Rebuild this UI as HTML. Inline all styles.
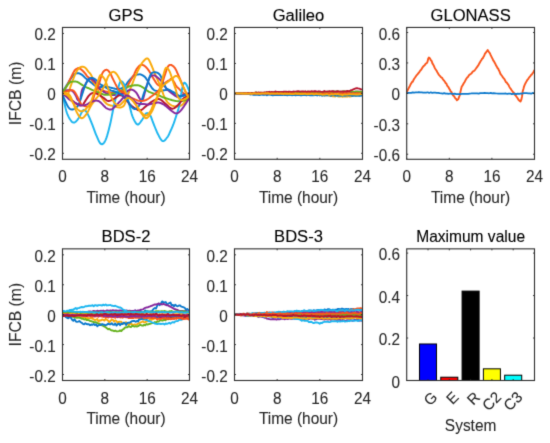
<!DOCTYPE html>
<html><head><meta charset="utf-8"><style>
html,body{margin:0;padding:0;background:#fff;}
svg{display:block;}
text{font-family:"Liberation Sans",sans-serif;fill:#262626;stroke:#262626;stroke-width:0.08px;}
text.t{fill:#000;stroke:#000;stroke-width:0.12px;}
svg{}
#w{width:550px;height:443px;}
</style></head><body><div id="w">
<svg width="550" height="443" viewBox="0 0 550 443">
<defs><clipPath id="cgps"><rect x="62.5" y="27.45" width="127.0" height="131.85000000000002"/></clipPath><clipPath id="cgal"><rect x="234.5" y="27.45" width="128.0" height="131.85000000000002"/></clipPath><clipPath id="cglo"><rect x="406.7" y="27.45" width="127.80000000000001" height="131.85000000000002"/></clipPath><clipPath id="cc2"><rect x="62.5" y="248.85" width="127.0" height="131.65"/></clipPath><clipPath id="cc3"><rect x="234.5" y="248.85" width="128.0" height="131.65"/></clipPath><clipPath id="cbar"><rect x="406.7" y="248.85" width="127.80000000000001" height="131.65"/></clipPath><filter id="bl" x="0" y="0" width="550" height="443" filterUnits="userSpaceOnUse" color-interpolation-filters="sRGB"><feConvolveMatrix order="3" kernelMatrix="0.0144 0.0912 0.0144 0.0912 0.5776 0.0912 0.0144 0.0912 0.0144" edgeMode="duplicate" preserveAlpha="true"/></filter></defs>
<g filter="url(#bl)">
<rect width="550" height="443" fill="#fff"/>
<g clip-path="url(#cgps)">
<path d="M62.50,93.40 L62.57,93.17 L62.64,92.89 L62.72,92.55 L62.82,92.16 L62.96,91.73 L63.12,91.26 L63.34,90.75 L63.60,90.20 L63.93,89.60 L64.32,88.93 L64.77,88.22 L65.24,87.46 L65.74,86.69 L66.24,85.91 L66.73,85.14 L67.20,84.40 L67.65,83.66 L68.10,82.91 L68.55,82.16 L68.99,81.41 L69.44,80.67 L69.89,79.94 L70.35,79.25 L70.80,78.60 L71.26,77.97 L71.72,77.34 L72.18,76.74 L72.65,76.16 L73.12,75.61 L73.58,75.11 L74.04,74.67 L74.50,74.30 L74.95,73.99 L75.41,73.74 L75.86,73.54 L76.31,73.39 L76.75,73.29 L77.20,73.22 L77.65,73.20 L78.10,73.20 L78.55,73.24 L79.00,73.33 L79.45,73.46 L79.90,73.62 L80.35,73.83 L80.80,74.06 L81.25,74.32 L81.70,74.60 L82.15,74.92 L82.60,75.30 L83.05,75.72 L83.50,76.16 L83.95,76.61 L84.40,77.06 L84.85,77.49 L85.30,77.90 L85.75,78.29 L86.22,78.67 L86.68,79.05 L87.14,79.42 L87.60,79.78 L88.05,80.13 L88.48,80.47 L88.90,80.80 L89.28,81.10 L89.62,81.36 L89.95,81.61 L90.26,81.84 L90.59,82.09 L90.94,82.35 L91.34,82.65 L91.80,83.00 L92.33,83.42 L92.90,83.92 L93.53,84.47 L94.17,85.02 L94.84,85.57 L95.51,86.07 L96.17,86.49 L96.80,86.80 L97.42,87.00 L98.05,87.12 L98.67,87.17 L99.29,87.17 L99.91,87.13 L100.52,87.08 L101.12,87.03 L101.70,87.00 L102.25,86.96 L102.78,86.88 L103.28,86.78 L103.78,86.67 L104.29,86.57 L104.82,86.50 L105.39,86.47 L106.00,86.50 L106.67,86.60 L107.38,86.75 L108.13,86.94 L108.89,87.16 L109.68,87.39 L110.46,87.61 L111.24,87.82 L112.00,88.00 L112.75,88.17 L113.50,88.36 L114.25,88.55 L115.01,88.73 L115.76,88.88 L116.51,88.99 L117.25,89.03 L118.00,89.00 L118.75,88.90 L119.51,88.76 L120.26,88.57 L121.02,88.33 L121.77,88.04 L122.50,87.69 L123.21,87.27 L123.90,86.80 L124.56,86.23 L125.19,85.56 L125.81,84.82 L126.41,84.03 L127.00,83.21 L127.59,82.40 L128.19,81.62 L128.80,80.90 L129.42,80.21 L130.04,79.50 L130.67,78.81 L131.29,78.12 L131.92,77.48 L132.55,76.88 L133.17,76.35 L133.80,75.90 L134.44,75.53 L135.10,75.23 L135.77,74.99 L136.43,74.81 L137.08,74.66 L137.70,74.55 L138.28,74.47 L138.80,74.40 L139.26,74.35 L139.65,74.33 L139.99,74.33 L140.31,74.37 L140.62,74.44 L140.95,74.55 L141.30,74.70 L141.70,74.90 L142.15,75.13 L142.62,75.38 L143.11,75.66 L143.61,75.99 L144.13,76.36 L144.65,76.80 L145.18,77.31 L145.70,77.90 L146.23,78.61 L146.76,79.44 L147.30,80.35 L147.85,81.33 L148.40,82.31 L148.94,83.28 L149.47,84.18 L150.00,85.00 L150.50,85.75 L150.97,86.49 L151.43,87.20 L151.89,87.88 L152.37,88.51 L152.87,89.08 L153.41,89.58 L154.00,90.00 L154.64,90.33 L155.32,90.58 L156.02,90.76 L156.76,90.89 L157.53,90.96 L158.33,91.00 L159.15,91.01 L160.00,91.00 L160.91,90.93 L161.91,90.77 L162.95,90.56 L164.01,90.32 L165.06,90.10 L166.06,89.91 L166.98,89.80 L167.80,89.80 L168.50,89.90 L169.11,90.07 L169.65,90.30 L170.14,90.57 L170.60,90.89 L171.05,91.24 L171.51,91.62 L172.00,92.00 L172.50,92.44 L172.97,92.97 L173.43,93.54 L173.89,94.14 L174.36,94.71 L174.86,95.24 L175.41,95.68 L176.00,96.00 L176.64,96.21 L177.32,96.33 L178.04,96.38 L178.78,96.38 L179.55,96.32 L180.35,96.23 L181.16,96.12 L182.00,96.00 L182.92,95.83 L183.95,95.59 L185.03,95.31 L186.12,95.00 L187.17,94.69 L188.12,94.41 L188.91,94.17 L189.50,94.00" stroke="#0A78CC" stroke-width="1.95" fill="none" stroke-linejoin="round" stroke-linecap="round"/>
<path d="M62.50,93.40 L62.87,92.75 L63.37,91.88 L63.97,90.85 L64.62,89.70 L65.31,88.50 L65.99,87.29 L66.63,86.14 L67.20,85.10 L67.70,84.15 L68.17,83.22 L68.63,82.32 L69.06,81.43 L69.49,80.55 L69.92,79.67 L70.35,78.79 L70.80,77.90 L71.26,76.97 L71.74,75.98 L72.22,74.98 L72.70,73.99 L73.17,73.03 L73.64,72.15 L74.08,71.36 L74.50,70.70 L74.90,70.17 L75.29,69.76 L75.67,69.43 L76.04,69.17 L76.38,68.97 L76.71,68.81 L77.02,68.65 L77.30,68.50 L77.54,68.35 L77.73,68.22 L77.90,68.12 L78.04,68.05 L78.19,68.01 L78.36,68.00 L78.55,68.03 L78.80,68.10 L79.10,68.21 L79.43,68.37 L79.78,68.57 L80.16,68.79 L80.55,69.05 L80.94,69.32 L81.33,69.61 L81.70,69.90 L82.06,70.20 L82.42,70.53 L82.79,70.87 L83.15,71.23 L83.51,71.61 L83.87,71.99 L84.24,72.39 L84.60,72.80 L84.96,73.23 L85.31,73.69 L85.66,74.17 L86.01,74.66 L86.36,75.14 L86.73,75.62 L87.10,76.08 L87.50,76.50 L87.92,76.88 L88.35,77.22 L88.79,77.53 L89.25,77.84 L89.71,78.15 L90.18,78.49 L90.64,78.87 L91.10,79.30 L91.56,79.80 L92.04,80.36 L92.52,80.96 L92.99,81.59 L93.47,82.22 L93.93,82.84 L94.38,83.44 L94.80,84.00 L95.19,84.53 L95.55,85.05 L95.88,85.56 L96.21,86.06 L96.55,86.53 L96.90,86.98 L97.28,87.41 L97.70,87.80 L98.16,88.15 L98.64,88.47 L99.14,88.75 L99.66,89.01 L100.20,89.26 L100.77,89.50 L101.37,89.75 L102.00,90.00 L102.66,90.27 L103.36,90.54 L104.08,90.81 L104.83,91.08 L105.60,91.33 L106.39,91.58 L107.19,91.80 L108.00,92.00 L108.83,92.18 L109.70,92.34 L110.60,92.49 L111.50,92.62 L112.40,92.74 L113.30,92.84 L114.17,92.93 L115.00,93.00 L115.81,93.08 L116.60,93.17 L117.38,93.26 L118.14,93.33 L118.88,93.35 L119.61,93.32 L120.31,93.21 L121.00,93.00 L121.66,92.70 L122.30,92.31 L122.92,91.86 L123.53,91.34 L124.11,90.76 L124.68,90.15 L125.25,89.49 L125.80,88.80 L126.34,88.06 L126.86,87.24 L127.36,86.38 L127.85,85.47 L128.34,84.54 L128.82,83.61 L129.31,82.69 L129.80,81.80 L130.31,80.93 L130.82,80.05 L131.34,79.17 L131.86,78.29 L132.37,77.42 L132.87,76.56 L133.35,75.72 L133.80,74.90 L134.22,74.09 L134.60,73.29 L134.96,72.49 L135.31,71.71 L135.65,70.96 L136.01,70.23 L136.39,69.54 L136.80,68.90 L137.24,68.28 L137.71,67.66 L138.19,67.07 L138.69,66.51 L139.19,66.01 L139.70,65.58 L140.20,65.24 L140.70,65.00 L141.19,64.86 L141.69,64.81 L142.18,64.84 L142.67,64.95 L143.17,65.12 L143.68,65.36 L144.18,65.65 L144.70,66.00 L145.23,66.41 L145.76,66.90 L146.30,67.46 L146.85,68.08 L147.40,68.74 L147.94,69.44 L148.47,70.17 L149.00,70.90 L149.52,71.67 L150.02,72.51 L150.53,73.38 L151.02,74.28 L151.52,75.19 L152.01,76.09 L152.51,76.97 L153.00,77.80 L153.50,78.62 L154.00,79.45 L154.51,80.28 L155.01,81.09 L155.51,81.87 L155.99,82.59 L156.46,83.24 L156.90,83.80 L157.32,84.27 L157.73,84.65 L158.13,84.96 L158.51,85.22 L158.88,85.44 L159.23,85.64 L159.57,85.82 L159.90,86.00 L160.20,86.20 L160.46,86.42 L160.69,86.62 L160.92,86.80 L161.15,86.93 L161.40,86.98 L161.68,86.95 L162.00,86.80 L162.37,86.50 L162.77,86.06 L163.20,85.51 L163.64,84.90 L164.10,84.26 L164.57,83.64 L165.04,83.07 L165.50,82.60 L165.97,82.21 L166.47,81.85 L166.97,81.52 L167.48,81.22 L167.98,80.95 L168.46,80.69 L168.90,80.44 L169.30,80.20 L169.65,79.95 L169.96,79.67 L170.23,79.40 L170.48,79.15 L170.72,78.94 L170.97,78.80 L171.22,78.75 L171.50,78.80 L171.80,78.97 L172.11,79.25 L172.42,79.62 L172.74,80.05 L173.06,80.52 L173.38,81.02 L173.69,81.52 L174.00,82.00 L174.30,82.49 L174.60,83.01 L174.89,83.57 L175.19,84.13 L175.48,84.69 L175.78,85.23 L176.09,85.74 L176.40,86.20 L176.72,86.60 L177.03,86.95 L177.34,87.27 L177.66,87.58 L177.99,87.87 L178.34,88.18 L178.71,88.52 L179.10,88.90 L179.53,89.34 L180.00,89.82 L180.49,90.34 L181.00,90.86 L181.51,91.38 L182.00,91.87 L182.47,92.32 L182.90,92.70 L183.28,93.02 L183.62,93.30 L183.94,93.54 L184.24,93.75 L184.55,93.94 L184.87,94.10 L185.21,94.25 L185.60,94.40 L186.06,94.53 L186.58,94.64 L187.15,94.73 L187.72,94.81 L188.27,94.87 L188.77,94.92 L189.19,94.96 L189.50,95.00" stroke="#FA561C" stroke-width="1.95" fill="none" stroke-linejoin="round" stroke-linecap="round"/>
<path d="M62.50,93.40 L62.78,93.54 L63.16,93.75 L63.62,94.01 L64.12,94.28 L64.64,94.53 L65.15,94.76 L65.61,94.92 L66.00,95.00 L66.32,95.03 L66.59,95.06 L66.82,95.05 L67.04,95.00 L67.26,94.87 L67.48,94.64 L67.72,94.29 L68.00,93.80 L68.31,93.12 L68.64,92.28 L68.99,91.29 L69.34,90.22 L69.71,89.09 L70.07,87.95 L70.44,86.84 L70.80,85.80 L71.16,84.80 L71.52,83.79 L71.88,82.77 L72.24,81.76 L72.61,80.76 L72.97,79.77 L73.34,78.82 L73.70,77.90 L74.06,77.00 L74.42,76.11 L74.79,75.23 L75.15,74.38 L75.51,73.56 L75.87,72.79 L76.24,72.06 L76.60,71.40 L76.96,70.79 L77.32,70.24 L77.69,69.73 L78.05,69.26 L78.41,68.84 L78.77,68.46 L79.14,68.11 L79.50,67.80 L79.86,67.53 L80.22,67.30 L80.59,67.11 L80.95,66.96 L81.31,66.84 L81.68,66.76 L82.04,66.72 L82.40,66.70 L82.76,66.72 L83.12,66.76 L83.49,66.84 L83.85,66.96 L84.21,67.11 L84.58,67.30 L84.94,67.53 L85.30,67.80 L85.66,68.13 L86.02,68.52 L86.39,68.97 L86.75,69.44 L87.11,69.94 L87.47,70.44 L87.84,70.93 L88.20,71.40 L88.56,71.81 L88.90,72.17 L89.24,72.51 L89.59,72.86 L89.94,73.25 L90.30,73.72 L90.69,74.29 L91.10,75.00 L91.55,75.89 L92.03,76.94 L92.53,78.11 L93.04,79.35 L93.56,80.61 L94.06,81.83 L94.55,82.98 L95.00,84.00 L95.41,84.88 L95.79,85.66 L96.15,86.38 L96.49,87.06 L96.84,87.74 L97.20,88.43 L97.58,89.17 L98.00,90.00 L98.45,90.92 L98.91,91.91 L99.38,92.94 L99.88,94.00 L100.38,95.06 L100.91,96.09 L101.45,97.08 L102.00,98.00 L102.57,98.87 L103.16,99.73 L103.76,100.57 L104.38,101.38 L105.01,102.13 L105.66,102.83 L106.32,103.46 L107.00,104.00 L107.70,104.44 L108.43,104.79 L109.18,105.06 L109.94,105.28 L110.71,105.46 L111.48,105.63 L112.24,105.80 L113.00,106.00 L113.77,106.23 L114.57,106.46 L115.38,106.69 L116.19,106.91 L116.97,107.11 L117.71,107.28 L118.39,107.41 L119.00,107.50 L119.52,107.55 L119.97,107.56 L120.37,107.55 L120.72,107.50 L121.04,107.42 L121.36,107.31 L121.67,107.17 L122.00,107.00 L122.33,106.83 L122.64,106.68 L122.93,106.53 L123.23,106.33 L123.52,106.05 L123.82,105.68 L124.15,105.17 L124.50,104.50 L124.88,103.63 L125.27,102.59 L125.68,101.40 L126.11,100.12 L126.54,98.78 L126.99,97.41 L127.44,96.08 L127.90,94.80 L128.37,93.56 L128.86,92.32 L129.36,91.07 L129.86,89.81 L130.37,88.56 L130.89,87.30 L131.40,86.05 L131.90,84.80 L132.40,83.54 L132.90,82.27 L133.40,80.99 L133.91,79.72 L134.41,78.46 L134.91,77.23 L135.40,76.04 L135.90,74.90 L136.40,73.80 L136.90,72.72 L137.41,71.66 L137.91,70.64 L138.41,69.66 L138.89,68.72 L139.36,67.84 L139.80,67.00 L140.21,66.23 L140.57,65.51 L140.92,64.85 L141.25,64.23 L141.59,63.65 L141.95,63.08 L142.35,62.54 L142.80,62.00 L143.31,61.41 L143.88,60.76 L144.48,60.10 L145.10,59.47 L145.73,58.94 L146.35,58.55 L146.94,58.35 L147.50,58.40 L148.02,58.72 L148.52,59.29 L149.01,60.04 L149.48,60.94 L149.94,61.94 L150.40,62.98 L150.85,64.01 L151.30,65.00 L151.74,65.98 L152.18,67.01 L152.60,68.09 L153.03,69.19 L153.44,70.30 L153.86,71.40 L154.28,72.47 L154.70,73.50 L155.13,74.48 L155.55,75.43 L155.98,76.36 L156.41,77.28 L156.83,78.19 L157.26,79.11 L157.68,80.05 L158.10,81.00 L158.52,81.98 L158.95,82.99 L159.38,84.01 L159.80,85.03 L160.22,86.05 L160.63,87.06 L161.02,88.04 L161.40,89.00 L161.76,89.93 L162.09,90.86 L162.41,91.76 L162.72,92.66 L163.03,93.53 L163.34,94.38 L163.66,95.20 L164.00,96.00 L164.35,96.77 L164.70,97.53 L165.05,98.26 L165.41,98.97 L165.78,99.65 L166.17,100.30 L166.57,100.92 L167.00,101.50 L167.45,102.05 L167.91,102.56 L168.38,103.05 L168.88,103.50 L169.38,103.92 L169.91,104.31 L170.45,104.67 L171.00,105.00 L171.58,105.30 L172.18,105.57 L172.80,105.82 L173.44,106.03 L174.08,106.21 L174.73,106.35 L175.37,106.45 L176.00,106.50 L176.63,106.51 L177.27,106.48 L177.92,106.42 L178.56,106.31 L179.20,106.17 L179.82,105.98 L180.42,105.76 L181.00,105.50 L181.54,105.19 L182.06,104.84 L182.55,104.44 L183.03,104.00 L183.51,103.53 L183.99,103.04 L184.48,102.53 L185.00,102.00 L185.57,101.41 L186.20,100.74 L186.85,100.02 L187.50,99.28 L188.12,98.57 L188.68,97.93 L189.15,97.40 L189.50,97.00" stroke="#FAAA0A" stroke-width="1.95" fill="none" stroke-linejoin="round" stroke-linecap="round"/>
<path d="M62.50,92.50 L62.73,92.34 L63.03,92.12 L63.39,91.86 L63.79,91.58 L64.21,91.29 L64.65,91.01 L65.09,90.78 L65.50,90.60 L65.91,90.47 L66.34,90.38 L66.77,90.30 L67.21,90.26 L67.65,90.23 L68.08,90.21 L68.50,90.20 L68.90,90.20 L69.28,90.20 L69.66,90.21 L70.03,90.23 L70.39,90.27 L70.73,90.32 L71.07,90.39 L71.39,90.48 L71.70,90.60 L71.99,90.74 L72.25,90.89 L72.50,91.07 L72.74,91.26 L72.98,91.48 L73.21,91.72 L73.45,92.00 L73.70,92.30 L73.96,92.64 L74.23,93.02 L74.50,93.43 L74.77,93.87 L75.04,94.32 L75.30,94.78 L75.56,95.24 L75.80,95.70 L76.03,96.18 L76.26,96.69 L76.48,97.22 L76.69,97.75 L76.89,98.26 L77.10,98.74 L77.30,99.16 L77.50,99.50 L77.70,99.78 L77.89,100.03 L78.08,100.23 L78.26,100.39 L78.45,100.50 L78.63,100.56 L78.81,100.56 L79.00,100.50 L79.19,100.39 L79.38,100.25 L79.56,100.05 L79.75,99.80 L79.94,99.48 L80.12,99.08 L80.31,98.59 L80.50,98.00 L80.68,97.26 L80.84,96.35 L81.01,95.33 L81.17,94.24 L81.34,93.14 L81.53,92.06 L81.75,91.07 L82.00,90.20 L82.28,89.47 L82.58,88.83 L82.90,88.25 L83.24,87.71 L83.60,87.19 L83.99,86.64 L84.38,86.06 L84.80,85.40 L85.25,84.63 L85.74,83.76 L86.26,82.84 L86.79,81.91 L87.32,81.01 L87.84,80.19 L88.34,79.51 L88.80,79.00 L89.22,78.66 L89.60,78.44 L89.95,78.33 L90.30,78.31 L90.65,78.37 L91.00,78.50 L91.38,78.68 L91.80,78.90 L92.25,79.18 L92.73,79.54 L93.23,79.98 L93.74,80.47 L94.26,81.01 L94.78,81.58 L95.30,82.18 L95.80,82.80 L96.29,83.47 L96.78,84.22 L97.27,85.03 L97.75,85.86 L98.23,86.68 L98.72,87.46 L99.21,88.18 L99.70,88.80 L100.19,89.32 L100.69,89.78 L101.18,90.18 L101.68,90.54 L102.17,90.87 L102.68,91.18 L103.18,91.48 L103.70,91.80 L104.21,92.12 L104.71,92.43 L105.22,92.74 L105.73,93.02 L106.25,93.30 L106.80,93.55 L107.38,93.79 L108.00,94.00 L108.67,94.20 L109.38,94.38 L110.13,94.55 L110.89,94.70 L111.68,94.82 L112.46,94.92 L113.24,94.98 L114.00,95.00 L114.76,94.97 L115.52,94.88 L116.29,94.75 L117.06,94.60 L117.82,94.43 L118.57,94.27 L119.30,94.12 L120.00,94.00 L120.68,93.92 L121.36,93.88 L122.01,93.86 L122.66,93.83 L123.28,93.79 L123.88,93.72 L124.45,93.59 L125.00,93.40 L125.51,93.11 L125.97,92.74 L126.40,92.31 L126.81,91.84 L127.22,91.38 L127.62,90.95 L128.05,90.58 L128.50,90.30 L128.98,90.09 L129.46,89.91 L129.96,89.76 L130.47,89.66 L130.98,89.60 L131.49,89.60 L132.00,89.67 L132.50,89.80 L133.00,90.00 L133.51,90.27 L134.02,90.61 L134.53,90.99 L135.04,91.43 L135.54,91.92 L136.02,92.44 L136.50,93.00 L136.97,93.65 L137.43,94.42 L137.89,95.26 L138.34,96.14 L138.78,96.99 L139.21,97.79 L139.61,98.47 L140.00,99.00 L140.36,99.43 L140.70,99.81 L141.01,100.14 L141.31,100.38 L141.61,100.50 L141.90,100.50 L142.19,100.34 L142.50,100.00 L142.81,99.43 L143.13,98.63 L143.45,97.66 L143.76,96.56 L144.08,95.40 L144.39,94.21 L144.70,93.06 L145.00,92.00 L145.29,90.99 L145.58,89.98 L145.86,88.96 L146.14,87.94 L146.42,86.93 L146.70,85.93 L146.99,84.95 L147.30,84.00 L147.61,83.04 L147.92,82.05 L148.23,81.06 L148.55,80.10 L148.88,79.19 L149.23,78.35 L149.60,77.61 L150.00,77.00 L150.43,76.51 L150.89,76.13 L151.37,75.83 L151.87,75.61 L152.38,75.47 L152.89,75.39 L153.40,75.37 L153.90,75.40 L154.40,75.50 L154.89,75.68 L155.39,75.94 L155.89,76.25 L156.40,76.61 L156.90,76.99 L157.40,77.40 L157.90,77.80 L158.40,78.21 L158.90,78.64 L159.40,79.09 L159.90,79.58 L160.40,80.08 L160.90,80.62 L161.40,81.19 L161.90,81.80 L162.40,82.47 L162.90,83.21 L163.40,84.00 L163.91,84.81 L164.41,85.62 L164.91,86.40 L165.40,87.14 L165.90,87.80 L166.39,88.39 L166.88,88.94 L167.37,89.46 L167.85,89.94 L168.33,90.40 L168.82,90.84 L169.31,91.27 L169.80,91.70 L170.29,92.12 L170.79,92.53 L171.28,92.92 L171.78,93.30 L172.28,93.67 L172.78,94.02 L173.29,94.36 L173.80,94.70 L174.31,95.05 L174.82,95.42 L175.33,95.80 L175.84,96.16 L176.36,96.48 L176.89,96.74 L177.44,96.92 L178.00,97.00 L178.58,96.96 L179.16,96.80 L179.75,96.56 L180.36,96.27 L180.98,95.94 L181.63,95.60 L182.30,95.28 L183.00,95.00 L183.79,94.74 L184.67,94.45 L185.61,94.16 L186.56,93.88 L187.47,93.60 L188.30,93.36 L188.99,93.15 L189.50,93.00" stroke="#86269C" stroke-width="1.95" fill="none" stroke-linejoin="round" stroke-linecap="round"/>
<path d="M62.50,93.40 L62.69,93.06 L62.94,92.61 L63.23,92.08 L63.56,91.48 L63.92,90.85 L64.28,90.21 L64.65,89.58 L65.00,89.00 L65.35,88.43 L65.73,87.84 L66.11,87.23 L66.50,86.63 L66.89,86.05 L67.27,85.49 L67.65,84.97 L68.00,84.50 L68.33,84.08 L68.64,83.69 L68.93,83.32 L69.22,82.99 L69.51,82.70 L69.82,82.43 L70.14,82.20 L70.50,82.00 L70.89,81.84 L71.31,81.74 L71.75,81.67 L72.20,81.62 L72.66,81.61 L73.12,81.60 L73.57,81.60 L74.00,81.60 L74.42,81.59 L74.83,81.58 L75.24,81.58 L75.64,81.59 L76.05,81.62 L76.46,81.68 L76.87,81.77 L77.30,81.90 L77.74,82.09 L78.19,82.32 L78.65,82.60 L79.11,82.90 L79.57,83.21 L80.03,83.53 L80.47,83.83 L80.90,84.10 L81.31,84.35 L81.69,84.59 L82.06,84.83 L82.43,85.06 L82.79,85.29 L83.17,85.52 L83.57,85.76 L84.00,86.00 L84.46,86.25 L84.94,86.50 L85.43,86.75 L85.94,87.01 L86.46,87.26 L86.98,87.51 L87.49,87.76 L88.00,88.00 L88.49,88.23 L88.98,88.46 L89.46,88.68 L89.95,88.90 L90.44,89.12 L90.94,89.34 L91.46,89.57 L92.00,89.80 L92.56,90.04 L93.14,90.29 L93.74,90.54 L94.34,90.79 L94.96,91.04 L95.57,91.30 L96.19,91.55 L96.80,91.80 L97.41,92.06 L98.04,92.32 L98.67,92.59 L99.30,92.86 L99.92,93.12 L100.54,93.37 L101.13,93.60 L101.70,93.80 L102.23,93.99 L102.71,94.16 L103.16,94.33 L103.61,94.48 L104.07,94.60 L104.56,94.70 L105.10,94.77 L105.70,94.80 L106.38,94.79 L107.12,94.75 L107.91,94.68 L108.73,94.59 L109.56,94.47 L110.39,94.33 L111.21,94.17 L112.00,94.00 L112.76,93.81 L113.52,93.61 L114.27,93.38 L115.02,93.14 L115.76,92.88 L116.51,92.60 L117.25,92.31 L118.00,92.00 L118.76,91.67 L119.53,91.31 L120.30,90.93 L121.08,90.53 L121.84,90.13 L122.58,89.74 L123.31,89.36 L124.00,89.00 L124.66,88.65 L125.28,88.31 L125.88,87.96 L126.46,87.63 L127.04,87.31 L127.61,87.01 L128.20,86.74 L128.80,86.50 L129.42,86.29 L130.04,86.10 L130.67,85.94 L131.31,85.79 L131.94,85.67 L132.57,85.56 L133.19,85.48 L133.80,85.40 L134.40,85.33 L135.00,85.27 L135.59,85.23 L136.18,85.20 L136.77,85.20 L137.35,85.23 L137.92,85.29 L138.50,85.40 L139.07,85.55 L139.63,85.74 L140.18,85.96 L140.73,86.22 L141.28,86.50 L141.84,86.81 L142.41,87.15 L143.00,87.50 L143.60,87.90 L144.21,88.35 L144.84,88.84 L145.47,89.35 L146.10,89.86 L146.74,90.35 L147.37,90.80 L148.00,91.20 L148.62,91.54 L149.25,91.85 L149.88,92.12 L150.50,92.38 L151.12,92.61 L151.75,92.84 L152.38,93.07 L153.00,93.30 L153.62,93.53 L154.23,93.73 L154.83,93.93 L155.44,94.12 L156.05,94.31 L156.68,94.52 L157.33,94.75 L158.00,95.00 L158.67,95.28 L159.31,95.57 L159.96,95.88 L160.62,96.21 L161.34,96.54 L162.12,96.89 L163.00,97.24 L164.00,97.60 L165.16,97.99 L166.49,98.43 L167.93,98.89 L169.44,99.35 L170.95,99.79 L172.41,100.20 L173.78,100.54 L175.00,100.80 L176.06,100.98 L177.02,101.11 L177.90,101.19 L178.72,101.23 L179.51,101.22 L180.31,101.17 L181.13,101.10 L182.00,101.00 L182.96,100.84 L184.02,100.61 L185.11,100.32 L186.19,100.01 L187.21,99.70 L188.14,99.41 L188.92,99.17 L189.50,99.00" stroke="#66B21E" stroke-width="1.95" fill="none" stroke-linejoin="round" stroke-linecap="round"/>
<path d="M62.50,93.40 L62.79,94.81 L63.17,96.76 L63.62,99.08 L64.12,101.62 L64.66,104.23 L65.22,106.77 L65.77,109.08 L66.30,111.00 L66.83,112.61 L67.38,114.08 L67.94,115.41 L68.51,116.61 L69.08,117.70 L69.64,118.67 L70.18,119.53 L70.70,120.30 L71.18,120.96 L71.64,121.50 L72.08,121.93 L72.51,122.25 L72.93,122.46 L73.37,122.57 L73.82,122.58 L74.30,122.50 L74.81,122.29 L75.34,121.95 L75.88,121.49 L76.43,120.94 L76.99,120.31 L77.54,119.63 L78.08,118.92 L78.60,118.20 L79.12,117.40 L79.64,116.45 L80.16,115.43 L80.67,114.38 L81.17,113.36 L81.65,112.42 L82.09,111.61 L82.50,111.00 L82.86,110.56 L83.17,110.23 L83.44,110.00 L83.69,109.88 L83.94,109.84 L84.20,109.88 L84.48,110.01 L84.80,110.20 L85.15,110.46 L85.51,110.80 L85.89,111.22 L86.28,111.72 L86.68,112.30 L87.10,112.98 L87.54,113.74 L88.00,114.60 L88.48,115.58 L89.00,116.69 L89.53,117.91 L90.08,119.21 L90.63,120.56 L91.19,121.94 L91.75,123.33 L92.30,124.70 L92.85,126.10 L93.40,127.56 L93.95,129.07 L94.50,130.59 L95.05,132.10 L95.60,133.55 L96.15,134.93 L96.70,136.20 L97.24,137.43 L97.78,138.67 L98.32,139.89 L98.86,141.03 L99.39,142.06 L99.93,142.92 L100.46,143.59 L101.00,144.00 L101.54,144.19 L102.07,144.20 L102.61,144.03 L103.14,143.69 L103.68,143.18 L104.22,142.49 L104.76,141.63 L105.30,140.60 L105.85,139.34 L106.41,137.82 L106.98,136.10 L107.54,134.22 L108.10,132.23 L108.65,130.18 L109.19,128.12 L109.70,126.10 L110.19,124.05 L110.67,121.89 L111.13,119.66 L111.58,117.41 L112.01,115.15 L112.45,112.94 L112.87,110.81 L113.30,108.80 L113.71,106.90 L114.11,105.09 L114.50,103.34 L114.88,101.64 L115.27,99.98 L115.66,98.33 L116.07,96.67 L116.50,95.00 L116.95,93.21 L117.42,91.27 L117.90,89.29 L118.39,87.34 L118.89,85.52 L119.39,83.93 L119.90,82.66 L120.40,81.80 L120.92,81.38 L121.46,81.33 L122.02,81.59 L122.58,82.07 L123.12,82.73 L123.63,83.48 L124.10,84.26 L124.50,85.00 L124.83,85.74 L125.08,86.56 L125.28,87.45 L125.46,88.42 L125.62,89.46 L125.81,90.57 L126.02,91.75 L126.30,93.00 L126.63,94.36 L127.00,95.84 L127.40,97.42 L127.82,99.06 L128.25,100.72 L128.67,102.37 L129.10,103.97 L129.50,105.50 L129.88,106.98 L130.24,108.45 L130.60,109.91 L130.95,111.34 L131.32,112.73 L131.71,114.08 L132.13,115.38 L132.60,116.60 L133.12,117.83 L133.68,119.10 L134.28,120.35 L134.90,121.54 L135.53,122.60 L136.17,123.49 L136.79,124.14 L137.40,124.50 L138.00,124.53 L138.60,124.25 L139.20,123.74 L139.80,123.04 L140.39,122.24 L140.98,121.39 L141.55,120.55 L142.10,119.80 L142.63,119.03 L143.15,118.13 L143.66,117.17 L144.15,116.21 L144.64,115.29 L145.12,114.48 L145.61,113.83 L146.10,113.40 L146.60,113.17 L147.10,113.09 L147.60,113.14 L148.10,113.31 L148.59,113.59 L149.08,113.97 L149.55,114.44 L150.00,115.00 L150.42,115.66 L150.81,116.46 L151.19,117.36 L151.55,118.36 L151.92,119.43 L152.31,120.55 L152.73,121.72 L153.20,122.90 L153.72,124.16 L154.27,125.54 L154.85,127.00 L155.45,128.50 L156.06,129.99 L156.68,131.43 L157.30,132.78 L157.90,134.00 L158.50,135.15 L159.10,136.32 L159.70,137.44 L160.30,138.49 L160.90,139.43 L161.50,140.20 L162.10,140.77 L162.70,141.10 L163.30,141.15 L163.92,140.93 L164.54,140.51 L165.16,139.93 L165.76,139.24 L166.34,138.51 L166.89,137.78 L167.40,137.10 L167.86,136.44 L168.29,135.74 L168.68,135.01 L169.06,134.24 L169.42,133.45 L169.77,132.64 L170.13,131.82 L170.50,131.00 L170.88,130.18 L171.26,129.36 L171.63,128.53 L172.01,127.68 L172.38,126.81 L172.75,125.91 L173.13,124.98 L173.50,124.00 L173.88,122.96 L174.26,121.87 L174.65,120.73 L175.04,119.56 L175.42,118.39 L175.79,117.23 L176.15,116.09 L176.50,115.00 L176.83,113.97 L177.16,112.98 L177.47,112.01 L177.78,111.06 L178.07,110.10 L178.36,109.12 L178.63,108.09 L178.90,107.00 L179.16,105.84 L179.40,104.62 L179.63,103.35 L179.85,102.06 L180.07,100.76 L180.28,99.48 L180.49,98.22 L180.70,97.00 L180.91,95.80 L181.11,94.59 L181.31,93.38 L181.51,92.19 L181.70,91.04 L181.90,89.95 L182.10,88.93 L182.30,88.00 L182.51,87.14 L182.71,86.33 L182.92,85.57 L183.13,84.88 L183.34,84.26 L183.55,83.73 L183.77,83.31 L184.00,83.00 L184.24,82.82 L184.48,82.76 L184.73,82.80 L184.98,82.94 L185.24,83.14 L185.49,83.40 L185.75,83.69 L186.00,84.00 L186.25,84.36 L186.51,84.79 L186.77,85.28 L187.03,85.81 L187.29,86.37 L187.54,86.93 L187.77,87.48 L188.00,88.00 L188.22,88.53 L188.45,89.09 L188.67,89.68 L188.88,90.25 L189.07,90.79 L189.24,91.28 L189.39,91.69 L189.50,92.00" stroke="#1CB6F0" stroke-width="1.95" fill="none" stroke-linejoin="round" stroke-linecap="round"/>
<path d="M62.50,93.40 L62.73,93.58 L63.03,93.82 L63.39,94.10 L63.79,94.42 L64.21,94.75 L64.65,95.09 L65.09,95.41 L65.50,95.70 L65.91,95.97 L66.32,96.22 L66.74,96.47 L67.17,96.72 L67.60,96.97 L68.03,97.23 L68.47,97.51 L68.90,97.80 L69.33,98.12 L69.77,98.45 L70.21,98.80 L70.65,99.16 L71.09,99.52 L71.53,99.88 L71.97,100.25 L72.40,100.60 L72.83,100.96 L73.25,101.32 L73.68,101.69 L74.10,102.05 L74.52,102.41 L74.95,102.76 L75.37,103.09 L75.80,103.40 L76.23,103.71 L76.67,104.02 L77.11,104.33 L77.55,104.62 L77.99,104.88 L78.43,105.11 L78.87,105.28 L79.30,105.40 L79.73,105.46 L80.17,105.49 L80.61,105.48 L81.04,105.43 L81.47,105.33 L81.89,105.18 L82.30,104.97 L82.70,104.70 L83.08,104.35 L83.44,103.92 L83.79,103.42 L84.14,102.87 L84.48,102.29 L84.81,101.71 L85.15,101.14 L85.50,100.60 L85.85,100.07 L86.20,99.52 L86.55,98.97 L86.91,98.41 L87.26,97.87 L87.61,97.35 L87.95,96.85 L88.30,96.40 L88.64,95.98 L88.98,95.57 L89.32,95.19 L89.65,94.83 L89.98,94.50 L90.32,94.20 L90.66,93.93 L91.00,93.70 L91.35,93.51 L91.69,93.35 L92.04,93.23 L92.39,93.14 L92.75,93.07 L93.10,93.03 L93.45,93.01 L93.80,93.00 L94.15,93.02 L94.50,93.06 L94.85,93.13 L95.21,93.22 L95.56,93.32 L95.91,93.44 L96.25,93.57 L96.60,93.70 L96.93,93.83 L97.24,93.96 L97.54,94.10 L97.84,94.26 L98.15,94.43 L98.49,94.62 L98.87,94.84 L99.30,95.10 L99.79,95.40 L100.32,95.74 L100.90,96.11 L101.50,96.51 L102.11,96.91 L102.73,97.32 L103.33,97.72 L103.90,98.10 L104.44,98.50 L104.96,98.95 L105.47,99.42 L105.98,99.87 L106.49,100.29 L107.03,100.64 L107.59,100.88 L108.20,101.00 L108.85,100.98 L109.54,100.84 L110.27,100.61 L111.01,100.31 L111.76,99.95 L112.51,99.57 L113.26,99.18 L114.00,98.80 L114.73,98.37 L115.46,97.85 L116.20,97.27 L116.94,96.69 L117.67,96.14 L118.39,95.68 L119.10,95.35 L119.80,95.20 L120.48,95.22 L121.16,95.38 L121.82,95.64 L122.48,96.00 L123.13,96.43 L123.76,96.93 L124.39,97.45 L125.00,98.00 L125.58,98.61 L126.13,99.31 L126.66,100.07 L127.18,100.88 L127.71,101.70 L128.26,102.52 L128.86,103.29 L129.50,104.00 L130.21,104.67 L130.99,105.34 L131.80,105.99 L132.64,106.62 L133.48,107.22 L134.30,107.77 L135.08,108.27 L135.80,108.70 L136.45,109.09 L137.05,109.47 L137.60,109.81 L138.14,110.09 L138.68,110.30 L139.24,110.42 L139.84,110.43 L140.50,110.30 L141.22,110.01 L141.98,109.55 L142.78,108.96 L143.60,108.29 L144.43,107.57 L145.27,106.84 L146.09,106.14 L146.90,105.50 L147.69,104.89 L148.48,104.25 L149.27,103.59 L150.06,102.95 L150.84,102.33 L151.63,101.75 L152.41,101.24 L153.20,100.80 L153.99,100.41 L154.77,100.03 L155.56,99.69 L156.35,99.41 L157.14,99.20 L157.92,99.08 L158.71,99.07 L159.50,99.20 L160.29,99.49 L161.07,99.95 L161.86,100.54 L162.65,101.21 L163.44,101.93 L164.23,102.66 L165.01,103.36 L165.80,104.00 L166.59,104.65 L167.38,105.38 L168.18,106.14 L168.97,106.88 L169.77,107.56 L170.55,108.12 L171.33,108.52 L172.10,108.70 L172.86,108.66 L173.60,108.44 L174.34,108.07 L175.07,107.58 L175.80,107.00 L176.53,106.35 L177.26,105.68 L178.00,105.00 L178.75,104.25 L179.50,103.36 L180.26,102.40 L181.03,101.39 L181.78,100.40 L182.53,99.48 L183.27,98.66 L184.00,98.00 L184.75,97.50 L185.54,97.10 L186.34,96.80 L187.12,96.56 L187.86,96.38 L188.52,96.24 L189.08,96.12 L189.50,96.00" stroke="#B8142E" stroke-width="1.95" fill="none" stroke-linejoin="round" stroke-linecap="round"/>
<path d="M62.50,93.40 L62.61,93.79 L62.74,94.28 L62.90,94.85 L63.08,95.51 L63.30,96.24 L63.55,97.02 L63.85,97.84 L64.20,98.70 L64.62,99.66 L65.11,100.77 L65.65,101.96 L66.23,103.19 L66.82,104.40 L67.41,105.52 L67.98,106.51 L68.50,107.30 L68.98,107.91 L69.43,108.40 L69.87,108.79 L70.29,109.08 L70.72,109.28 L71.16,109.41 L71.62,109.48 L72.10,109.50 L72.62,109.45 L73.18,109.31 L73.76,109.09 L74.35,108.81 L74.93,108.47 L75.49,108.10 L76.02,107.71 L76.50,107.30 L76.93,106.89 L77.31,106.48 L77.66,106.03 L77.99,105.56 L78.31,105.03 L78.63,104.43 L78.96,103.76 L79.30,103.00 L79.66,102.12 L80.02,101.12 L80.38,100.04 L80.75,98.90 L81.12,97.73 L81.48,96.55 L81.84,95.40 L82.20,94.30 L82.55,93.23 L82.90,92.14 L83.25,91.06 L83.59,89.98 L83.94,88.93 L84.29,87.90 L84.64,86.92 L85.00,86.00 L85.36,85.11 L85.71,84.24 L86.07,83.41 L86.42,82.61 L86.79,81.86 L87.17,81.16 L87.58,80.54 L88.00,80.00 L88.45,79.53 L88.93,79.12 L89.43,78.78 L89.94,78.50 L90.46,78.28 L90.98,78.12 L91.49,78.03 L92.00,78.00 L92.50,78.04 L93.00,78.17 L93.50,78.37 L94.00,78.62 L94.50,78.93 L95.00,79.27 L95.50,79.63 L96.00,80.00 L96.50,80.42 L97.00,80.90 L97.50,81.43 L98.00,81.98 L98.50,82.54 L99.00,83.07 L99.50,83.57 L100.00,84.00 L100.49,84.36 L100.95,84.66 L101.41,84.93 L101.88,85.17 L102.35,85.41 L102.86,85.67 L103.40,85.96 L104.00,86.30 L104.65,86.71 L105.36,87.17 L106.10,87.66 L106.88,88.17 L107.66,88.68 L108.45,89.16 L109.24,89.61 L110.00,90.00 L110.75,90.32 L111.50,90.60 L112.25,90.83 L113.00,91.04 L113.75,91.25 L114.50,91.47 L115.25,91.71 L116.00,92.00 L116.76,92.31 L117.52,92.63 L118.29,92.96 L119.06,93.31 L119.82,93.68 L120.57,94.09 L121.30,94.52 L122.00,95.00 L122.68,95.52 L123.34,96.09 L123.99,96.68 L124.62,97.31 L125.24,97.96 L125.84,98.63 L126.43,99.31 L127.00,100.00 L127.55,100.72 L128.08,101.50 L128.60,102.31 L129.09,103.12 L129.58,103.93 L130.06,104.69 L130.53,105.39 L131.00,106.00 L131.46,106.55 L131.91,107.08 L132.35,107.56 L132.78,108.00 L133.21,108.37 L133.64,108.67 L134.07,108.88 L134.50,109.00 L134.94,109.01 L135.39,108.92 L135.83,108.75 L136.28,108.50 L136.72,108.19 L137.16,107.83 L137.59,107.43 L138.00,107.00 L138.40,106.55 L138.79,106.05 L139.16,105.52 L139.53,104.94 L139.90,104.30 L140.26,103.60 L140.63,102.84 L141.00,102.00 L141.38,101.06 L141.75,100.01 L142.12,98.87 L142.50,97.69 L142.88,96.48 L143.25,95.27 L143.62,94.10 L144.00,93.00 L144.37,91.97 L144.73,91.00 L145.08,90.06 L145.44,89.12 L145.80,88.18 L146.18,87.19 L146.58,86.14 L147.00,85.00 L147.45,83.70 L147.91,82.24 L148.38,80.68 L148.88,79.10 L149.38,77.57 L149.91,76.16 L150.45,74.95 L151.00,74.00 L151.58,73.32 L152.20,72.84 L152.85,72.53 L153.50,72.35 L154.15,72.28 L154.80,72.28 L155.42,72.33 L156.00,72.40 L156.55,72.50 L157.09,72.66 L157.62,72.88 L158.12,73.18 L158.62,73.53 L159.09,73.96 L159.55,74.45 L160.00,75.00 L160.42,75.65 L160.82,76.42 L161.20,77.28 L161.56,78.19 L161.92,79.12 L162.27,80.06 L162.63,80.96 L163.00,81.80 L163.38,82.62 L163.75,83.45 L164.12,84.28 L164.50,85.10 L164.88,85.88 L165.25,86.60 L165.62,87.25 L166.00,87.80 L166.35,88.23 L166.68,88.55 L166.99,88.79 L167.31,88.98 L167.66,89.14 L168.04,89.31 L168.48,89.52 L169.00,89.80 L169.61,90.14 L170.31,90.52 L171.07,90.92 L171.88,91.34 L172.69,91.76 L173.50,92.19 L174.28,92.60 L175.00,93.00 L175.67,93.41 L176.32,93.86 L176.95,94.32 L177.56,94.76 L178.17,95.18 L178.77,95.54 L179.38,95.82 L180.00,96.00 L180.63,96.07 L181.26,96.05 L181.90,95.96 L182.53,95.81 L183.16,95.62 L183.79,95.41 L184.40,95.20 L185.00,95.00 L185.62,94.78 L186.27,94.52 L186.92,94.24 L187.56,93.94 L188.16,93.65 L188.70,93.38 L189.16,93.16 L189.50,93.00" stroke="#0A78CC" stroke-width="1.95" fill="none" stroke-linejoin="round" stroke-linecap="round"/>
<path d="M62.50,93.40 L62.76,93.25 L63.09,93.04 L63.49,92.80 L63.94,92.53 L64.42,92.25 L64.94,91.98 L65.47,91.72 L66.00,91.50 L66.57,91.30 L67.20,91.09 L67.87,90.88 L68.55,90.69 L69.23,90.51 L69.88,90.37 L70.47,90.26 L71.00,90.20 L71.45,90.18 L71.85,90.19 L72.21,90.22 L72.53,90.29 L72.83,90.40 L73.12,90.53 L73.41,90.70 L73.70,90.90 L73.99,91.14 L74.27,91.42 L74.53,91.74 L74.79,92.09 L75.04,92.46 L75.29,92.86 L75.54,93.27 L75.80,93.70 L76.06,94.15 L76.33,94.63 L76.59,95.14 L76.85,95.66 L77.11,96.20 L77.38,96.74 L77.64,97.27 L77.90,97.80 L78.16,98.33 L78.43,98.88 L78.69,99.43 L78.96,99.99 L79.22,100.53 L79.48,101.05 L79.74,101.55 L80.00,102.00 L80.25,102.42 L80.49,102.81 L80.72,103.18 L80.96,103.53 L81.20,103.85 L81.45,104.15 L81.71,104.43 L82.00,104.70 L82.31,104.94 L82.63,105.16 L82.96,105.36 L83.31,105.54 L83.66,105.71 L84.03,105.85 L84.41,105.98 L84.80,106.10 L85.21,106.22 L85.64,106.34 L86.10,106.45 L86.56,106.54 L87.02,106.61 L87.46,106.63 L87.90,106.60 L88.30,106.50 L88.68,106.35 L89.04,106.16 L89.38,105.93 L89.71,105.65 L90.04,105.32 L90.36,104.94 L90.68,104.50 L91.00,104.00 L91.33,103.42 L91.65,102.77 L91.97,102.05 L92.29,101.28 L92.61,100.48 L92.91,99.65 L93.21,98.82 L93.50,98.00 L93.77,97.17 L94.01,96.30 L94.23,95.41 L94.46,94.51 L94.68,93.61 L94.93,92.72 L95.20,91.84 L95.50,91.00 L95.84,90.21 L96.22,89.48 L96.62,88.78 L97.04,88.08 L97.46,87.36 L97.89,86.59 L98.30,85.75 L98.70,84.80 L99.09,83.70 L99.48,82.44 L99.87,81.09 L100.26,79.71 L100.64,78.34 L101.00,77.04 L101.36,75.88 L101.70,74.90 L102.02,74.11 L102.31,73.44 L102.58,72.88 L102.85,72.40 L103.12,71.99 L103.39,71.64 L103.68,71.31 L104.00,71.00 L104.34,70.70 L104.70,70.43 L105.07,70.20 L105.46,70.02 L105.84,69.89 L106.23,69.82 L106.62,69.82 L107.00,69.90 L107.38,70.06 L107.75,70.29 L108.13,70.59 L108.51,70.96 L108.88,71.38 L109.26,71.84 L109.63,72.35 L110.00,72.90 L110.37,73.51 L110.73,74.19 L111.09,74.93 L111.45,75.72 L111.81,76.53 L112.17,77.34 L112.53,78.13 L112.90,78.90 L113.27,79.65 L113.64,80.40 L114.02,81.16 L114.39,81.91 L114.77,82.66 L115.15,83.39 L115.52,84.11 L115.90,84.80 L116.27,85.49 L116.63,86.18 L116.98,86.87 L117.34,87.54 L117.70,88.18 L118.08,88.78 L118.48,89.32 L118.90,89.80 L119.34,90.18 L119.80,90.46 L120.28,90.67 L120.77,90.85 L121.28,91.02 L121.80,91.22 L122.34,91.47 L122.90,91.80 L123.48,92.23 L124.08,92.72 L124.69,93.27 L125.33,93.84 L125.97,94.42 L126.64,94.98 L127.31,95.52 L128.00,96.00 L128.71,96.44 L129.44,96.86 L130.18,97.26 L130.94,97.64 L131.71,98.00 L132.48,98.35 L133.24,98.68 L134.00,99.00 L134.75,99.32 L135.50,99.64 L136.25,99.96 L137.00,100.25 L137.75,100.51 L138.50,100.73 L139.25,100.90 L140.00,101.00 L140.75,101.04 L141.50,101.03 L142.25,100.98 L143.00,100.88 L143.75,100.73 L144.50,100.53 L145.25,100.29 L146.00,100.00 L146.76,99.64 L147.52,99.21 L148.29,98.72 L149.06,98.19 L149.82,97.63 L150.57,97.07 L151.30,96.52 L152.00,96.00 L152.68,95.51 L153.35,95.03 L154.00,94.55 L154.63,94.08 L155.25,93.59 L155.85,93.08 L156.43,92.56 L157.00,92.00 L157.54,91.45 L158.05,90.94 L158.54,90.43 L159.01,89.89 L159.48,89.29 L159.94,88.60 L160.42,87.78 L160.90,86.80 L161.40,85.61 L161.92,84.20 L162.44,82.66 L162.96,81.03 L163.48,79.37 L163.97,77.76 L164.45,76.25 L164.90,74.90 L165.31,73.67 L165.70,72.49 L166.06,71.35 L166.41,70.28 L166.75,69.29 L167.09,68.39 L167.44,67.59 L167.80,66.90 L168.16,66.33 L168.52,65.86 L168.87,65.49 L169.23,65.21 L169.60,65.02 L169.98,64.91 L170.38,64.87 L170.80,64.90 L171.26,65.02 L171.75,65.23 L172.27,65.53 L172.80,65.90 L173.33,66.34 L173.85,66.82 L174.34,67.35 L174.80,67.90 L175.22,68.50 L175.62,69.17 L176.00,69.89 L176.36,70.66 L176.72,71.45 L177.07,72.27 L177.43,73.09 L177.80,73.90 L178.18,74.72 L178.55,75.56 L178.93,76.42 L179.31,77.29 L179.68,78.17 L180.06,79.05 L180.43,79.93 L180.80,80.80 L181.17,81.68 L181.53,82.57 L181.89,83.47 L182.25,84.36 L182.61,85.25 L182.97,86.12 L183.33,86.98 L183.70,87.80 L184.07,88.61 L184.45,89.44 L184.83,90.25 L185.21,91.04 L185.59,91.80 L185.96,92.50 L186.33,93.14 L186.70,93.70 L187.08,94.18 L187.48,94.58 L187.89,94.93 L188.29,95.22 L188.66,95.46 L189.00,95.67 L189.29,95.85 L189.50,96.00" stroke="#FA561C" stroke-width="1.95" fill="none" stroke-linejoin="round" stroke-linecap="round"/>
<path d="M62.50,93.40 L62.77,93.35 L63.13,93.27 L63.56,93.17 L64.03,93.08 L64.53,92.99 L65.04,92.94 L65.54,92.94 L66.00,93.00 L66.44,93.10 L66.88,93.22 L67.32,93.37 L67.76,93.56 L68.20,93.81 L68.64,94.12 L69.07,94.51 L69.50,95.00 L69.92,95.58 L70.33,96.24 L70.73,96.98 L71.14,97.79 L71.54,98.67 L71.95,99.60 L72.37,100.58 L72.80,101.60 L73.23,102.72 L73.67,103.96 L74.10,105.29 L74.54,106.66 L75.00,108.02 L75.47,109.35 L75.97,110.59 L76.50,111.70 L77.06,112.76 L77.66,113.83 L78.28,114.88 L78.91,115.86 L79.56,116.72 L80.21,117.43 L80.86,117.93 L81.50,118.20 L82.14,118.20 L82.79,117.95 L83.44,117.50 L84.09,116.90 L84.74,116.19 L85.38,115.40 L86.00,114.59 L86.60,113.80 L87.18,112.97 L87.74,112.02 L88.28,111.01 L88.81,109.94 L89.34,108.87 L89.86,107.82 L90.38,106.82 L90.90,105.90 L91.42,105.06 L91.94,104.26 L92.46,103.50 L92.97,102.77 L93.48,102.06 L93.99,101.36 L94.49,100.68 L95.00,100.00 L95.51,99.33 L96.03,98.69 L96.55,98.06 L97.07,97.44 L97.58,96.84 L98.07,96.23 L98.55,95.62 L99.00,95.00 L99.42,94.38 L99.82,93.75 L100.20,93.13 L100.57,92.51 L100.93,91.89 L101.28,91.26 L101.64,90.63 L102.00,90.00 L102.36,89.38 L102.72,88.80 L103.06,88.22 L103.41,87.64 L103.77,87.02 L104.13,86.36 L104.50,85.62 L104.90,84.80 L105.31,83.84 L105.73,82.74 L106.17,81.56 L106.61,80.33 L107.07,79.11 L107.53,77.95 L108.01,76.90 L108.50,76.00 L109.01,75.22 L109.54,74.50 L110.09,73.85 L110.64,73.27 L111.20,72.78 L111.75,72.38 L112.29,72.08 L112.80,71.90 L113.29,71.84 L113.77,71.90 L114.24,72.06 L114.70,72.32 L115.15,72.65 L115.60,73.06 L116.05,73.51 L116.50,74.00 L116.95,74.56 L117.40,75.23 L117.85,75.96 L118.29,76.76 L118.73,77.58 L119.16,78.41 L119.59,79.22 L120.00,80.00 L120.40,80.74 L120.79,81.48 L121.16,82.21 L121.53,82.94 L121.90,83.68 L122.26,84.43 L122.63,85.20 L123.00,86.00 L123.37,86.85 L123.73,87.75 L124.08,88.68 L124.44,89.62 L124.80,90.55 L125.18,91.44 L125.58,92.26 L126.00,93.00 L126.45,93.63 L126.93,94.18 L127.42,94.66 L127.92,95.10 L128.44,95.53 L128.96,95.97 L129.48,96.45 L130.00,97.00 L130.50,97.58 L130.99,98.16 L131.47,98.74 L131.96,99.36 L132.46,100.01 L133.00,100.73 L133.57,101.52 L134.20,102.40 L134.89,103.41 L135.64,104.56 L136.44,105.80 L137.26,107.09 L138.10,108.39 L138.92,109.65 L139.73,110.84 L140.50,111.90 L141.23,112.93 L141.95,114.00 L142.66,115.05 L143.35,116.04 L144.04,116.90 L144.72,117.59 L145.41,118.04 L146.10,118.20 L146.80,118.05 L147.50,117.62 L148.20,116.97 L148.91,116.14 L149.60,115.17 L150.28,114.11 L150.95,113.00 L151.60,111.90 L152.23,110.75 L152.83,109.50 L153.42,108.15 L153.99,106.74 L154.57,105.28 L155.14,103.79 L155.71,102.29 L156.30,100.80 L156.91,99.23 L157.54,97.54 L158.18,95.78 L158.81,94.02 L159.43,92.32 L160.03,90.74 L160.59,89.35 L161.10,88.20 L161.55,87.33 L161.93,86.69 L162.28,86.23 L162.60,85.90 L162.92,85.64 L163.24,85.41 L163.60,85.14 L164.00,84.80 L164.45,84.41 L164.92,84.02 L165.42,83.65 L165.93,83.27 L166.45,82.91 L166.97,82.54 L167.49,82.17 L168.00,81.80 L168.50,81.42 L169.00,81.05 L169.51,80.67 L170.01,80.29 L170.51,79.92 L171.01,79.54 L171.51,79.17 L172.00,78.80 L172.49,78.40 L172.98,77.96 L173.47,77.49 L173.96,77.04 L174.44,76.63 L174.91,76.29 L175.36,76.03 L175.80,75.90 L176.21,75.88 L176.61,75.94 L176.99,76.08 L177.36,76.29 L177.72,76.58 L178.08,76.92 L178.44,77.33 L178.80,77.80 L179.17,78.35 L179.53,79.01 L179.89,79.75 L180.25,80.54 L180.61,81.37 L180.97,82.20 L181.33,83.02 L181.70,83.80 L182.08,84.56 L182.46,85.32 L182.85,86.09 L183.24,86.85 L183.62,87.61 L184.00,88.36 L184.36,89.09 L184.70,89.80 L185.02,90.50 L185.32,91.18 L185.60,91.86 L185.88,92.52 L186.15,93.17 L186.43,93.80 L186.71,94.41 L187.00,95.00 L187.32,95.58 L187.67,96.18 L188.03,96.76 L188.39,97.33 L188.74,97.85 L189.05,98.31 L189.31,98.70 L189.50,99.00" stroke="#FAAA0A" stroke-width="1.95" fill="none" stroke-linejoin="round" stroke-linecap="round"/>
<path d="M62.50,93.40 L62.73,93.57 L63.03,93.79 L63.39,94.04 L63.79,94.33 L64.21,94.65 L64.65,94.99 L65.09,95.34 L65.50,95.70 L65.91,96.09 L66.32,96.52 L66.74,96.99 L67.17,97.46 L67.60,97.94 L68.03,98.40 L68.47,98.82 L68.90,99.20 L69.31,99.52 L69.69,99.79 L70.06,100.03 L70.43,100.26 L70.83,100.48 L71.28,100.72 L71.80,100.98 L72.40,101.30 L73.12,101.68 L73.97,102.12 L74.89,102.60 L75.86,103.09 L76.82,103.57 L77.74,104.01 L78.58,104.40 L79.30,104.70 L79.89,104.93 L80.38,105.10 L80.81,105.23 L81.19,105.32 L81.54,105.37 L81.90,105.40 L82.27,105.41 L82.70,105.40 L83.17,105.37 L83.65,105.31 L84.15,105.23 L84.65,105.12 L85.15,104.99 L85.65,104.84 L86.13,104.68 L86.60,104.50 L87.05,104.30 L87.49,104.06 L87.92,103.80 L88.35,103.52 L88.77,103.24 L89.18,102.97 L89.59,102.72 L90.00,102.50 L90.40,102.31 L90.79,102.13 L91.17,101.97 L91.54,101.82 L91.92,101.68 L92.30,101.55 L92.70,101.42 L93.10,101.30 L93.52,101.17 L93.95,101.04 L94.39,100.91 L94.83,100.79 L95.28,100.69 L95.72,100.62 L96.16,100.58 L96.60,100.60 L97.03,100.66 L97.45,100.74 L97.86,100.86 L98.27,101.01 L98.69,101.20 L99.12,101.42 L99.55,101.69 L100.00,102.00 L100.47,102.38 L100.96,102.83 L101.46,103.34 L101.97,103.88 L102.47,104.42 L102.97,104.96 L103.45,105.46 L103.90,105.90 L104.32,106.30 L104.71,106.68 L105.08,107.04 L105.44,107.38 L105.80,107.70 L106.17,107.99 L106.57,108.26 L107.00,108.50 L107.47,108.73 L107.96,108.96 L108.47,109.17 L109.00,109.35 L109.53,109.49 L110.07,109.57 L110.59,109.58 L111.10,109.50 L111.59,109.33 L112.07,109.08 L112.54,108.75 L113.01,108.37 L113.48,107.94 L113.97,107.48 L114.47,106.99 L115.00,106.50 L115.55,105.98 L116.11,105.43 L116.69,104.84 L117.28,104.23 L117.89,103.59 L118.51,102.93 L119.15,102.27 L119.80,101.60 L120.49,100.87 L121.21,100.05 L121.96,99.18 L122.72,98.32 L123.48,97.50 L124.22,96.78 L124.94,96.20 L125.60,95.80 L126.21,95.59 L126.77,95.51 L127.29,95.55 L127.80,95.70 L128.31,95.93 L128.83,96.24 L129.39,96.60 L130.00,97.00 L130.67,97.50 L131.39,98.14 L132.14,98.88 L132.91,99.68 L133.68,100.47 L134.43,101.22 L135.14,101.88 L135.80,102.40 L136.40,102.79 L136.97,103.10 L137.51,103.35 L138.03,103.54 L138.53,103.68 L139.02,103.80 L139.51,103.90 L140.00,104.00 L140.48,104.07 L140.95,104.10 L141.40,104.10 L141.84,104.07 L142.29,104.03 L142.74,104.00 L143.21,103.99 L143.70,104.00 L144.21,104.05 L144.74,104.12 L145.28,104.20 L145.83,104.29 L146.38,104.38 L146.93,104.45 L147.47,104.49 L148.00,104.50 L148.51,104.47 L149.02,104.42 L149.52,104.34 L150.02,104.24 L150.51,104.14 L151.01,104.02 L151.50,103.91 L152.00,103.80 L152.51,103.68 L153.02,103.55 L153.54,103.41 L154.06,103.27 L154.57,103.13 L155.07,103.00 L155.55,102.89 L156.00,102.80 L156.41,102.72 L156.79,102.65 L157.13,102.58 L157.47,102.53 L157.81,102.49 L158.17,102.49 L158.56,102.52 L159.00,102.60 L159.49,102.72 L160.02,102.87 L160.57,103.05 L161.15,103.26 L161.74,103.51 L162.33,103.78 L162.92,104.08 L163.50,104.40 L164.07,104.76 L164.65,105.17 L165.22,105.62 L165.80,106.09 L166.38,106.57 L166.95,107.06 L167.53,107.54 L168.10,108.00 L168.67,108.46 L169.25,108.94 L169.83,109.43 L170.41,109.91 L170.98,110.38 L171.54,110.83 L172.08,111.24 L172.60,111.60 L173.09,111.94 L173.56,112.26 L174.02,112.57 L174.46,112.84 L174.89,113.07 L175.32,113.25 L175.76,113.36 L176.20,113.40 L176.65,113.37 L177.10,113.27 L177.55,113.11 L178.00,112.89 L178.45,112.63 L178.90,112.32 L179.35,111.98 L179.80,111.60 L180.25,111.17 L180.70,110.69 L181.15,110.15 L181.60,109.57 L182.05,108.97 L182.50,108.35 L182.95,107.72 L183.40,107.10 L183.86,106.46 L184.33,105.77 L184.80,105.07 L185.27,104.35 L185.73,103.64 L186.18,102.95 L186.60,102.30 L187.00,101.70 L187.38,101.13 L187.76,100.57 L188.13,100.03 L188.47,99.51 L188.79,99.04 L189.08,98.62 L189.31,98.27 L189.50,98.00" stroke="#86269C" stroke-width="1.95" fill="none" stroke-linejoin="round" stroke-linecap="round"/>
<path d="M62.50,93.40 L62.77,93.48 L63.14,93.56 L63.58,93.67 L64.06,93.79 L64.57,93.94 L65.08,94.10 L65.56,94.29 L66.00,94.50 L66.40,94.73 L66.77,94.97 L67.14,95.23 L67.50,95.51 L67.86,95.82 L68.23,96.17 L68.60,96.56 L69.00,97.00 L69.41,97.50 L69.84,98.06 L70.28,98.67 L70.72,99.31 L71.17,99.98 L71.61,100.66 L72.06,101.33 L72.50,102.00 L72.93,102.68 L73.36,103.39 L73.79,104.11 L74.22,104.84 L74.65,105.56 L75.09,106.25 L75.54,106.90 L76.00,107.50 L76.48,108.06 L76.96,108.61 L77.46,109.13 L77.97,109.62 L78.48,110.07 L78.99,110.45 L79.50,110.77 L80.00,111.00 L80.50,111.15 L81.00,111.24 L81.50,111.26 L82.00,111.22 L82.50,111.12 L83.00,110.96 L83.50,110.76 L84.00,110.50 L84.51,110.17 L85.02,109.77 L85.54,109.30 L86.06,108.78 L86.57,108.23 L87.07,107.65 L87.55,107.07 L88.00,106.50 L88.42,105.94 L88.82,105.39 L89.21,104.83 L89.58,104.24 L89.93,103.63 L90.29,102.98 L90.64,102.27 L91.00,101.50 L91.36,100.65 L91.72,99.74 L92.07,98.76 L92.42,97.75 L92.77,96.71 L93.11,95.66 L93.46,94.62 L93.80,93.60 L94.15,92.57 L94.50,91.51 L94.86,90.42 L95.21,89.34 L95.56,88.28 L95.89,87.26 L96.21,86.29 L96.50,85.40 L96.77,84.59 L97.01,83.84 L97.23,83.14 L97.44,82.49 L97.64,81.86 L97.85,81.24 L98.07,80.63 L98.30,80.00 L98.54,79.33 L98.79,78.60 L99.04,77.87 L99.30,77.15 L99.56,76.49 L99.83,75.92 L100.11,75.48 L100.40,75.20 L100.70,75.09 L101.02,75.13 L101.34,75.29 L101.68,75.55 L102.01,75.87 L102.35,76.24 L102.68,76.62 L103.00,77.00 L103.32,77.37 L103.62,77.75 L103.93,78.16 L104.24,78.61 L104.54,79.11 L104.86,79.67 L105.17,80.29 L105.50,81.00 L105.84,81.81 L106.18,82.74 L106.53,83.74 L106.89,84.79 L107.24,85.88 L107.60,86.96 L107.95,88.01 L108.30,89.00 L108.64,89.96 L108.98,90.92 L109.32,91.87 L109.66,92.81 L109.99,93.73 L110.33,94.62 L110.66,95.48 L111.00,96.30 L111.34,97.08 L111.67,97.84 L112.01,98.58 L112.35,99.28 L112.69,99.95 L113.03,100.58 L113.36,101.16 L113.70,101.70 L114.03,102.19 L114.35,102.64 L114.67,103.04 L114.99,103.41 L115.32,103.73 L115.66,104.02 L116.02,104.28 L116.40,104.50 L116.80,104.70 L117.23,104.89 L117.67,105.05 L118.12,105.17 L118.58,105.24 L119.05,105.25 L119.52,105.17 L120.00,105.00 L120.48,104.71 L120.97,104.29 L121.47,103.79 L121.97,103.22 L122.48,102.62 L122.99,102.04 L123.50,101.48 L124.00,101.00 L124.50,100.54 L125.00,100.06 L125.50,99.58 L126.00,99.12 L126.50,98.71 L127.00,98.38 L127.50,98.13 L128.00,98.00 L128.50,97.99 L129.00,98.08 L129.50,98.25 L130.00,98.50 L130.50,98.81 L131.00,99.17 L131.50,99.57 L132.00,100.00 L132.49,100.47 L132.98,100.99 L133.46,101.57 L133.94,102.19 L134.43,102.85 L134.93,103.54 L135.45,104.26 L136.00,105.00 L136.58,105.80 L137.18,106.69 L137.80,107.63 L138.44,108.59 L139.08,109.54 L139.73,110.45 L140.37,111.28 L141.00,112.00 L141.63,112.66 L142.26,113.31 L142.90,113.92 L143.53,114.47 L144.16,114.93 L144.79,115.27 L145.40,115.47 L146.00,115.50 L146.59,115.34 L147.18,115.02 L147.77,114.55 L148.34,113.97 L148.91,113.30 L149.46,112.56 L149.99,111.78 L150.50,111.00 L150.98,110.17 L151.44,109.25 L151.87,108.26 L152.29,107.22 L152.70,106.15 L153.12,105.08 L153.55,104.02 L154.00,103.00 L154.47,102.04 L154.94,101.15 L155.43,100.27 L155.92,99.39 L156.41,98.45 L156.91,97.44 L157.40,96.30 L157.90,95.00 L158.40,93.50 L158.92,91.81 L159.44,89.98 L159.96,88.08 L160.47,86.16 L160.97,84.26 L161.45,82.46 L161.90,80.80 L162.33,79.22 L162.74,77.63 L163.14,76.08 L163.53,74.59 L163.89,73.19 L164.24,71.92 L164.58,70.81 L164.90,69.90 L165.19,69.18 L165.45,68.63 L165.68,68.23 L165.91,67.97 L166.13,67.82 L166.36,67.77 L166.61,67.80 L166.90,67.90 L167.22,68.08 L167.56,68.36 L167.92,68.75 L168.29,69.22 L168.67,69.78 L169.05,70.41 L169.43,71.12 L169.80,71.90 L170.17,72.78 L170.54,73.78 L170.92,74.87 L171.29,76.04 L171.67,77.24 L172.05,78.45 L172.42,79.65 L172.80,80.80 L173.18,81.93 L173.57,83.09 L173.97,84.26 L174.36,85.42 L174.75,86.57 L175.12,87.70 L175.47,88.77 L175.80,89.80 L176.09,90.79 L176.34,91.76 L176.57,92.70 L176.79,93.61 L177.01,94.47 L177.24,95.28 L177.50,96.02 L177.80,96.70 L178.14,97.31 L178.50,97.88 L178.88,98.39 L179.28,98.84 L179.69,99.24 L180.12,99.56 L180.55,99.82 L181.00,100.00 L181.46,100.09 L181.93,100.10 L182.42,100.03 L182.92,99.89 L183.43,99.71 L183.95,99.49 L184.47,99.25 L185.00,99.00 L185.57,98.70 L186.20,98.32 L186.85,97.89 L187.50,97.44 L188.12,96.99 L188.68,96.59 L189.15,96.25 L189.50,96.00" stroke="#FAAA0A" stroke-width="1.95" fill="none" stroke-linejoin="round" stroke-linecap="round"/>
</g>
<g clip-path="url(#cglo)">
<path d="M406.50,92.50 L407.20,91.07 L407.90,89.79 L408.60,88.35 L409.30,86.99 L410.00,85.70 L410.70,84.09 L411.40,83.16 L412.10,81.82 L412.80,81.75 L413.50,79.93 L414.20,78.77 L414.90,77.80 L415.60,76.74 L416.30,75.69 L417.00,74.92 L417.70,74.20 L418.40,73.09 L419.10,72.45 L419.80,71.21 L420.50,70.30 L421.20,69.72 L421.90,68.50 L422.60,67.29 L423.30,66.45 L424.00,65.76 L424.70,65.32 L425.40,64.09 L426.10,63.47 L426.80,63.13 L427.50,61.78 L428.20,58.82 L428.90,57.50 L429.60,58.02 L430.30,59.06 L431.00,60.51 L431.70,60.98 L432.40,63.41 L433.10,64.41 L433.80,65.64 L434.50,67.43 L435.20,68.79 L435.90,69.73 L436.60,70.76 L437.30,72.19 L438.00,73.26 L438.70,74.65 L439.40,75.40 L440.10,76.08 L440.80,77.06 L441.50,77.47 L442.20,78.06 L442.90,79.26 L443.60,80.19 L444.30,80.97 L445.00,81.86 L445.70,83.18 L446.40,83.58 L447.10,85.48 L447.80,86.54 L448.50,87.15 L449.20,88.75 L449.90,89.68 L450.60,91.30 L451.30,91.77 L452.00,93.17 L452.70,94.67 L453.40,95.86 L454.10,96.08 L454.80,97.48 L455.50,98.57 L456.20,99.10 L456.90,100.24 L457.60,99.62 L458.30,99.24 L459.00,97.16 L459.70,95.50 L460.40,92.14 L461.10,88.92 L461.80,86.33 L462.50,85.64 L463.20,84.22 L463.90,83.05 L464.60,81.99 L465.30,80.65 L466.00,79.31 L466.70,78.21 L467.40,77.22 L468.10,76.84 L468.80,75.34 L469.50,74.86 L470.20,74.30 L470.90,73.84 L471.60,73.31 L472.30,72.19 L473.00,71.35 L473.70,71.05 L474.40,70.61 L475.10,69.72 L475.80,68.77 L476.50,67.77 L477.20,66.97 L477.90,65.79 L478.60,64.93 L479.30,63.33 L480.00,62.34 L480.70,61.05 L481.40,60.00 L482.10,58.77 L482.80,58.21 L483.50,56.81 L484.20,55.70 L484.90,53.71 L485.60,53.06 L486.30,51.92 L487.00,51.15 L487.70,50.02 L488.40,51.33 L489.10,52.26 L489.80,53.18 L490.50,54.73 L491.20,56.07 L491.90,57.54 L492.60,58.95 L493.30,60.56 L494.00,61.27 L494.70,62.78 L495.40,63.90 L496.10,65.57 L496.80,66.59 L497.50,68.02 L498.20,68.70 L498.90,70.24 L499.60,71.58 L500.30,73.67 L501.00,74.66 L501.70,75.49 L502.40,76.46 L503.10,77.68 L503.80,78.35 L504.50,79.27 L505.20,80.60 L505.90,82.09 L506.60,82.43 L507.30,83.40 L508.00,84.31 L508.70,85.33 L509.40,86.87 L510.10,88.02 L510.80,88.88 L511.50,90.01 L512.20,90.99 L512.90,92.01 L513.60,92.57 L514.30,93.80 L515.00,94.88 L515.70,95.58 L516.40,96.57 L517.10,97.40 L517.80,98.48 L518.50,99.79 L519.20,100.45 L519.90,101.23 L520.60,101.51 L521.30,99.70 L522.00,96.65 L522.70,91.34 L523.40,88.96 L524.10,86.37 L524.80,84.63 L525.50,83.19 L526.20,81.86 L526.90,80.67 L527.60,79.45 L528.30,78.92 L529.00,77.59 L529.70,76.79 L530.40,76.16 L531.10,74.89 L531.80,74.59 L532.50,73.32 L533.20,72.62 L533.90,71.07 L534.60,69.97" stroke="#FA561C" stroke-width="1.9" fill="none" stroke-linejoin="round" stroke-linecap="round"/>
<path d="M406.70,93.00 L408.20,92.91 L409.70,92.98 L411.20,92.83 L412.70,92.36 L414.20,92.57 L415.70,92.40 L417.20,92.48 L418.70,92.12 L420.20,92.44 L421.70,92.44 L423.20,92.70 L424.70,92.50 L426.20,92.57 L427.70,92.26 L429.20,92.98 L430.70,92.29 L432.20,92.90 L433.70,92.71 L435.20,92.69 L436.70,92.82 L438.20,92.93 L439.70,93.23 L441.20,93.26 L442.70,93.67 L444.20,93.19 L445.70,93.62 L447.20,93.56 L448.70,93.93 L450.20,93.46 L451.70,93.83 L453.20,93.96 L454.70,93.68 L456.20,94.14 L457.70,94.00 L459.20,94.14 L460.70,94.12 L462.20,93.75 L463.70,93.76 L465.20,93.82 L466.70,93.94 L468.20,93.90 L469.70,93.55 L471.20,93.49 L472.70,93.38 L474.20,93.34 L475.70,93.33 L477.20,93.28 L478.70,93.61 L480.20,93.09 L481.70,93.08 L483.20,93.18 L484.70,92.92 L486.20,93.02 L487.70,93.10 L489.20,93.26 L490.70,92.92 L492.20,93.45 L493.70,93.19 L495.20,93.33 L496.70,93.50 L498.20,93.51 L499.70,93.62 L501.20,93.51 L502.70,93.53 L504.20,93.65 L505.70,93.47 L507.20,93.92 L508.70,93.61 L510.20,93.55 L511.70,94.17 L513.20,93.78 L514.70,93.58 L516.20,94.10 L517.70,93.67 L519.20,93.88 L520.70,93.49 L522.20,93.54 L523.70,93.23 L525.20,93.13 L526.70,93.24 L528.20,93.34 L529.70,93.44 L531.20,93.67 L532.70,92.98 L534.20,93.29" stroke="#0A78CC" stroke-width="1.75" fill="none" stroke-linejoin="round" stroke-linecap="round"/>
</g>
<g clip-path="url(#cgal)">
<path d="M234.50,93.40 L235.70,93.40 L236.90,93.41 L238.10,93.45 L239.30,93.44 L240.50,93.47 L241.70,93.54 L242.90,93.57 L244.10,93.55 L245.30,93.47 L246.50,93.44 L247.70,93.44 L248.90,93.52 L250.10,93.59 L251.30,93.46 L252.50,93.46 L253.70,93.82 L254.90,93.41 L256.10,93.84 L257.30,94.01 L258.50,93.74 L259.70,93.75 L260.90,93.85 L262.10,94.19 L263.30,94.05 L264.50,93.70 L265.70,94.04 L266.90,94.39 L268.10,94.41 L269.30,94.36 L270.50,94.19 L271.70,93.86 L272.90,94.33 L274.10,94.28 L275.30,94.36 L276.50,94.71 L277.70,94.43 L278.90,94.48 L280.10,94.57 L281.30,94.40 L282.50,94.34 L283.70,94.34 L284.90,94.69 L286.10,94.65 L287.30,94.45 L288.50,94.83 L289.70,94.64 L290.90,94.32 L292.10,94.76 L293.30,94.61 L294.50,94.36 L295.70,94.78 L296.90,94.60 L298.10,94.60 L299.30,94.82 L300.50,94.22 L301.70,94.43 L302.90,94.62 L304.10,94.78 L305.30,94.58 L306.50,94.52 L307.70,94.51 L308.90,94.72 L310.10,94.90 L311.30,94.44 L312.50,94.31 L313.70,94.70 L314.90,94.69 L316.10,94.58 L317.30,94.92 L318.50,94.97 L319.70,94.67 L320.90,94.73 L322.10,94.94 L323.30,94.72 L324.50,94.52 L325.70,94.81 L326.90,94.64 L328.10,94.91 L329.30,94.74 L330.50,94.81 L331.70,94.97 L332.90,94.84 L334.10,94.73 L335.30,94.65 L336.50,95.26 L337.70,95.13 L338.90,94.56 L340.10,94.67 L341.30,95.03 L342.50,94.78 L343.70,94.92 L344.90,95.10 L346.10,94.95 L347.30,94.90 L348.50,94.83 L349.70,94.92 L350.90,95.03 L352.10,95.33 L353.30,95.19 L354.50,94.92 L355.70,95.17 L356.90,95.00 L358.10,94.65 L359.30,94.96 L360.50,95.21 L361.70,94.87" stroke="#0A78CC" stroke-width="1.8" fill="none" stroke-linejoin="round" stroke-linecap="round"/>
<path d="M234.50,93.40 L235.70,93.41 L236.90,93.42 L238.10,93.36 L239.30,93.36 L240.50,93.34 L241.70,93.41 L242.90,93.35 L244.10,93.43 L245.30,93.13 L246.50,93.55 L247.70,93.32 L248.90,93.44 L250.10,93.30 L251.30,93.25 L252.50,93.41 L253.70,93.48 L254.90,93.26 L256.10,93.26 L257.30,93.44 L258.50,93.09 L259.70,92.94 L260.90,93.35 L262.10,93.11 L263.30,92.83 L264.50,93.06 L265.70,93.13 L266.90,92.96 L268.10,92.89 L269.30,93.21 L270.50,93.39 L271.70,93.13 L272.90,93.01 L274.10,93.24 L275.30,93.30 L276.50,93.06 L277.70,93.23 L278.90,93.32 L280.10,93.03 L281.30,92.87 L282.50,93.11 L283.70,93.07 L284.90,93.24 L286.10,92.69 L287.30,92.81 L288.50,92.75 L289.70,92.54 L290.90,92.93 L292.10,93.00 L293.30,92.71 L294.50,93.16 L295.70,93.02 L296.90,92.96 L298.10,92.90 L299.30,93.02 L300.50,92.50 L301.70,92.93 L302.90,92.92 L304.10,92.39 L305.30,92.86 L306.50,92.72 L307.70,92.95 L308.90,92.68 L310.10,92.77 L311.30,92.86 L312.50,92.59 L313.70,92.92 L314.90,92.76 L316.10,92.90 L317.30,92.68 L318.50,93.04 L319.70,92.93 L320.90,92.76 L322.10,92.94 L323.30,93.08 L324.50,93.20 L325.70,92.46 L326.90,93.00 L328.10,92.91 L329.30,92.78 L330.50,92.58 L331.70,93.07 L332.90,92.51 L334.10,92.91 L335.30,93.06 L336.50,92.42 L337.70,92.70 L338.90,92.47 L340.10,92.80 L341.30,93.08 L342.50,93.18 L343.70,92.34 L344.90,92.59 L346.10,92.87 L347.30,93.05 L348.50,92.79 L349.70,92.53 L350.90,92.75 L352.10,92.67 L353.30,92.62 L354.50,92.49 L355.70,92.73 L356.90,92.71 L358.10,92.61 L359.30,92.57 L360.50,92.33 L361.70,92.50" stroke="#FA561C" stroke-width="1.8" fill="none" stroke-linejoin="round" stroke-linecap="round"/>
<path d="M234.50,93.40 L235.70,93.42 L236.90,93.44 L238.10,93.45 L239.30,93.52 L240.50,93.36 L241.70,93.40 L242.90,93.34 L244.10,93.45 L245.30,93.59 L246.50,93.48 L247.70,93.56 L248.90,93.20 L250.10,93.54 L251.30,93.35 L252.50,93.88 L253.70,93.73 L254.90,93.76 L256.10,93.55 L257.30,93.71 L258.50,93.73 L259.70,93.52 L260.90,93.50 L262.10,93.60 L263.30,93.50 L264.50,93.52 L265.70,93.60 L266.90,93.51 L268.10,93.86 L269.30,93.35 L270.50,93.89 L271.70,93.59 L272.90,93.62 L274.10,93.46 L275.30,93.74 L276.50,93.73 L277.70,93.84 L278.90,93.70 L280.10,93.85 L281.30,94.25 L282.50,93.96 L283.70,93.76 L284.90,94.12 L286.10,93.90 L287.30,94.08 L288.50,94.11 L289.70,93.91 L290.90,93.59 L292.10,93.97 L293.30,94.19 L294.50,94.01 L295.70,94.21 L296.90,94.35 L298.10,94.04 L299.30,94.46 L300.50,94.57 L301.70,94.47 L302.90,94.52 L304.10,94.53 L305.30,94.81 L306.50,94.39 L307.70,94.38 L308.90,94.54 L310.10,94.24 L311.30,94.13 L312.50,94.31 L313.70,94.63 L314.90,94.69 L316.10,94.29 L317.30,94.26 L318.50,94.66 L319.70,94.74 L320.90,94.84 L322.10,95.08 L323.30,95.29 L324.50,95.17 L325.70,95.38 L326.90,95.14 L328.10,95.27 L329.30,95.74 L330.50,95.99 L331.70,96.15 L332.90,96.26 L334.10,96.41 L335.30,96.50 L336.50,96.00 L337.70,96.29 L338.90,96.60 L340.10,96.68 L341.30,96.25 L342.50,96.86 L343.70,96.51 L344.90,96.55 L346.10,96.63 L347.30,96.70 L348.50,96.16 L349.70,96.61 L350.90,96.31 L352.10,96.02 L353.30,96.00 L354.50,95.46 L355.70,95.66 L356.90,95.70 L358.10,95.37 L359.30,95.31 L360.50,95.20 L361.70,95.10" stroke="#FAAA0A" stroke-width="1.8" fill="none" stroke-linejoin="round" stroke-linecap="round"/>
<path d="M234.50,93.40 L235.70,93.34 L236.90,93.39 L238.10,93.35 L239.30,93.40 L240.50,93.34 L241.70,93.45 L242.90,93.29 L244.10,93.21 L245.30,93.32 L246.50,93.29 L247.70,93.16 L248.90,93.16 L250.10,93.30 L251.30,93.29 L252.50,93.04 L253.70,93.04 L254.90,92.70 L256.10,93.45 L257.30,93.01 L258.50,93.33 L259.70,93.10 L260.90,93.41 L262.10,93.29 L263.30,92.99 L264.50,93.21 L265.70,92.65 L266.90,93.10 L268.10,92.46 L269.30,92.83 L270.50,92.95 L271.70,92.73 L272.90,92.56 L274.10,92.43 L275.30,92.49 L276.50,92.77 L277.70,92.69 L278.90,92.41 L280.10,92.16 L281.30,92.55 L282.50,92.05 L283.70,92.22 L284.90,92.14 L286.10,92.44 L287.30,92.30 L288.50,92.33 L289.70,92.27 L290.90,92.04 L292.10,92.29 L293.30,92.46 L294.50,92.13 L295.70,92.26 L296.90,92.08 L298.10,92.33 L299.30,92.24 L300.50,92.28 L301.70,92.15 L302.90,92.43 L304.10,91.98 L305.30,91.98 L306.50,91.92 L307.70,92.18 L308.90,91.91 L310.10,91.90 L311.30,92.20 L312.50,92.29 L313.70,92.15 L314.90,91.43 L316.10,91.81 L317.30,91.78 L318.50,91.74 L319.70,91.91 L320.90,92.40 L322.10,91.92 L323.30,91.82 L324.50,92.13 L325.70,91.99 L326.90,91.99 L328.10,91.81 L329.30,91.95 L330.50,92.04 L331.70,91.52 L332.90,91.58 L334.10,92.17 L335.30,92.11 L336.50,91.81 L337.70,91.69 L338.90,91.87 L340.10,91.64 L341.30,91.82 L342.50,92.25 L343.70,91.91 L344.90,92.14 L346.10,91.83 L347.30,91.95 L348.50,92.17 L349.70,91.56 L350.90,91.78 L352.10,91.81 L353.30,91.90 L354.50,92.18 L355.70,91.98 L356.90,91.50 L358.10,91.76 L359.30,91.62 L360.50,91.61 L361.70,92.25" stroke="#86269C" stroke-width="1.8" fill="none" stroke-linejoin="round" stroke-linecap="round"/>
<path d="M234.50,93.40 L235.70,93.36 L236.90,93.30 L238.10,93.20 L239.30,93.27 L240.50,93.34 L241.70,93.23 L242.90,93.24 L244.10,93.28 L245.30,93.03 L246.50,93.46 L247.70,92.95 L248.90,93.11 L250.10,93.50 L251.30,92.98 L252.50,92.99 L253.70,92.83 L254.90,92.99 L256.10,92.42 L257.30,92.72 L258.50,93.21 L259.70,92.85 L260.90,92.73 L262.10,92.84 L263.30,92.82 L264.50,92.74 L265.70,92.80 L266.90,92.28 L268.10,92.75 L269.30,92.45 L270.50,92.74 L271.70,92.54 L272.90,92.30 L274.10,92.48 L275.30,92.25 L276.50,92.67 L277.70,92.41 L278.90,92.58 L280.10,92.13 L281.30,92.71 L282.50,92.26 L283.70,92.61 L284.90,92.47 L286.10,92.02 L287.30,92.31 L288.50,92.10 L289.70,92.29 L290.90,92.50 L292.10,92.32 L293.30,92.39 L294.50,91.88 L295.70,92.17 L296.90,92.19 L298.10,92.34 L299.30,91.95 L300.50,92.20 L301.70,92.16 L302.90,91.72 L304.10,91.81 L305.30,92.13 L306.50,91.76 L307.70,91.74 L308.90,92.20 L310.10,92.05 L311.30,91.93 L312.50,91.99 L313.70,91.87 L314.90,91.83 L316.10,91.84 L317.30,92.01 L318.50,92.21 L319.70,91.80 L320.90,91.87 L322.10,91.83 L323.30,91.58 L324.50,91.90 L325.70,92.02 L326.90,91.63 L328.10,91.98 L329.30,91.66 L330.50,92.02 L331.70,92.02 L332.90,91.65 L334.10,91.28 L335.30,91.63 L336.50,91.38 L337.70,91.38 L338.90,91.60 L340.10,91.95 L341.30,91.61 L342.50,91.57 L343.70,91.20 L344.90,91.47 L346.10,91.29 L347.30,91.70 L348.50,91.47 L349.70,91.57 L350.90,91.57 L352.10,91.54 L353.30,91.79 L354.50,91.69 L355.70,91.51 L356.90,91.62 L358.10,91.71 L359.30,91.89 L360.50,91.62 L361.70,91.92" stroke="#66B21E" stroke-width="1.8" fill="none" stroke-linejoin="round" stroke-linecap="round"/>
<path d="M234.50,93.40 L235.70,93.43 L236.90,93.49 L238.10,93.50 L239.30,93.59 L240.50,93.65 L241.70,93.53 L242.90,93.77 L244.10,93.66 L245.30,94.01 L246.50,93.90 L247.70,93.76 L248.90,93.91 L250.10,93.95 L251.30,94.01 L252.50,94.26 L253.70,94.14 L254.90,94.43 L256.10,94.23 L257.30,94.09 L258.50,93.83 L259.70,93.85 L260.90,94.27 L262.10,94.40 L263.30,94.60 L264.50,94.18 L265.70,94.36 L266.90,94.19 L268.10,94.30 L269.30,93.92 L270.50,94.61 L271.70,94.31 L272.90,94.48 L274.10,94.62 L275.30,94.62 L276.50,94.28 L277.70,94.93 L278.90,94.79 L280.10,94.75 L281.30,94.52 L282.50,94.33 L283.70,94.35 L284.90,94.68 L286.10,94.78 L287.30,94.61 L288.50,95.18 L289.70,94.86 L290.90,95.03 L292.10,95.03 L293.30,94.60 L294.50,95.07 L295.70,94.96 L296.90,94.59 L298.10,95.04 L299.30,95.13 L300.50,95.11 L301.70,95.14 L302.90,94.60 L304.10,94.86 L305.30,94.80 L306.50,94.94 L307.70,94.96 L308.90,95.19 L310.10,95.11 L311.30,94.77 L312.50,95.15 L313.70,95.32 L314.90,95.04 L316.10,94.64 L317.30,94.84 L318.50,94.95 L319.70,94.64 L320.90,94.98 L322.10,94.73 L323.30,95.20 L324.50,95.18 L325.70,95.02 L326.90,94.77 L328.10,95.12 L329.30,94.92 L330.50,94.92 L331.70,95.33 L332.90,94.92 L334.10,94.80 L335.30,95.28 L336.50,95.51 L337.70,95.48 L338.90,95.30 L340.10,95.60 L341.30,95.07 L342.50,95.64 L343.70,95.63 L344.90,95.10 L346.10,95.27 L347.30,94.91 L348.50,94.97 L349.70,95.33 L350.90,94.96 L352.10,95.27 L353.30,95.34 L354.50,95.27 L355.70,95.47 L356.90,95.69 L358.10,95.31 L359.30,95.50 L360.50,95.62 L361.70,95.20" stroke="#1CB6F0" stroke-width="1.8" fill="none" stroke-linejoin="round" stroke-linecap="round"/>
<path d="M234.50,93.40 L235.70,93.38 L236.90,93.38 L238.10,93.36 L239.30,93.40 L240.50,93.25 L241.70,93.29 L242.90,93.19 L244.10,93.05 L245.30,93.09 L246.50,93.16 L247.70,92.98 L248.90,93.06 L250.10,93.25 L251.30,93.13 L252.50,93.10 L253.70,93.02 L254.90,92.86 L256.10,92.45 L257.30,93.02 L258.50,92.41 L259.70,92.73 L260.90,92.59 L262.10,92.58 L263.30,92.53 L264.50,92.33 L265.70,92.53 L266.90,91.98 L268.10,92.38 L269.30,91.77 L270.50,92.34 L271.70,91.91 L272.90,92.06 L274.10,92.26 L275.30,91.42 L276.50,91.79 L277.70,91.95 L278.90,91.99 L280.10,92.06 L281.30,91.87 L282.50,91.83 L283.70,91.72 L284.90,91.73 L286.10,91.67 L287.30,91.86 L288.50,91.66 L289.70,91.75 L290.90,91.95 L292.10,91.84 L293.30,91.49 L294.50,91.53 L295.70,91.70 L296.90,91.39 L298.10,91.11 L299.30,91.28 L300.50,91.61 L301.70,91.44 L302.90,91.40 L304.10,91.64 L305.30,91.23 L306.50,91.96 L307.70,91.46 L308.90,91.38 L310.10,91.90 L311.30,91.21 L312.50,91.33 L313.70,91.42 L314.90,91.23 L316.10,91.36 L317.30,91.56 L318.50,91.47 L319.70,91.42 L320.90,91.65 L322.10,91.84 L323.30,91.77 L324.50,90.96 L325.70,91.72 L326.90,91.59 L328.10,91.50 L329.30,91.19 L330.50,91.30 L331.70,91.35 L332.90,91.08 L334.10,91.66 L335.30,91.59 L336.50,91.39 L337.70,91.18 L338.90,91.69 L340.10,91.54 L341.30,91.62 L342.50,91.29 L343.70,91.90 L344.90,91.31 L346.10,91.74 L347.30,90.81 L348.50,91.22 L349.70,91.02 L350.90,90.17 L352.10,90.08 L353.30,89.37 L354.50,88.87 L355.70,88.47 L356.90,88.05 L358.10,88.41 L359.30,88.67 L360.50,89.02 L361.70,89.54" stroke="#B8142E" stroke-width="1.8" fill="none" stroke-linejoin="round" stroke-linecap="round"/>
<path d="M234.50,93.40 L235.70,93.44 L236.90,93.46 L238.10,93.47 L239.30,93.46 L240.50,93.60 L241.70,93.58 L242.90,93.61 L244.10,93.73 L245.30,93.81 L246.50,93.60 L247.70,94.14 L248.90,93.80 L250.10,94.56 L251.30,94.46 L252.50,94.35 L253.70,94.81 L254.90,94.60 L256.10,94.80 L257.30,94.73 L258.50,94.99 L259.70,95.02 L260.90,94.63 L262.10,94.72 L263.30,94.96 L264.50,94.87 L265.70,94.43 L266.90,95.40 L268.10,94.49 L269.30,94.53 L270.50,94.73 L271.70,95.15 L272.90,95.43 L274.10,94.99 L275.30,94.97 L276.50,95.11 L277.70,95.00 L278.90,95.10 L280.10,94.84 L281.30,95.20 L282.50,95.20 L283.70,94.58 L284.90,95.10 L286.10,95.17 L287.30,95.26 L288.50,94.96 L289.70,94.86 L290.90,94.95 L292.10,95.28 L293.30,94.98 L294.50,95.01 L295.70,95.43 L296.90,95.01 L298.10,94.99 L299.30,95.18 L300.50,95.25 L301.70,95.44 L302.90,95.02 L304.10,94.87 L305.30,95.19 L306.50,95.37 L307.70,94.90 L308.90,95.12 L310.10,95.30 L311.30,95.29 L312.50,95.26 L313.70,95.18 L314.90,95.07 L316.10,95.04 L317.30,95.50 L318.50,95.01 L319.70,95.53 L320.90,94.97 L322.10,95.90 L323.30,94.88 L324.50,95.62 L325.70,95.08 L326.90,95.26 L328.10,95.27 L329.30,95.15 L330.50,95.79 L331.70,95.33 L332.90,95.03 L334.10,95.47 L335.30,95.50 L336.50,95.10 L337.70,95.48 L338.90,95.38 L340.10,95.56 L341.30,95.55 L342.50,95.40 L343.70,95.32 L344.90,95.63 L346.10,95.51 L347.30,95.12 L348.50,95.34 L349.70,95.37 L350.90,95.43 L352.10,96.00 L353.30,95.42 L354.50,95.63 L355.70,95.90 L356.90,95.66 L358.10,95.65 L359.30,95.85 L360.50,95.62 L361.70,95.63" stroke="#0A78CC" stroke-width="1.8" fill="none" stroke-linejoin="round" stroke-linecap="round"/>
<path d="M234.50,93.40 L235.70,93.39 L236.90,93.43 L238.10,93.38 L239.30,93.54 L240.50,93.50 L241.70,93.42 L242.90,93.51 L244.10,93.63 L245.30,93.80 L246.50,93.35 L247.70,93.64 L248.90,93.57 L250.10,93.45 L251.30,93.71 L252.50,93.61 L253.70,93.75 L254.90,93.41 L256.10,93.53 L257.30,93.63 L258.50,93.55 L259.70,93.56 L260.90,93.39 L262.10,93.59 L263.30,93.61 L264.50,93.56 L265.70,93.58 L266.90,93.74 L268.10,93.45 L269.30,93.75 L270.50,93.57 L271.70,93.62 L272.90,93.57 L274.10,93.81 L275.30,93.78 L276.50,93.62 L277.70,93.52 L278.90,94.03 L280.10,93.74 L281.30,93.37 L282.50,93.62 L283.70,93.60 L284.90,93.78 L286.10,93.57 L287.30,93.46 L288.50,93.92 L289.70,93.18 L290.90,93.31 L292.10,93.50 L293.30,93.50 L294.50,93.58 L295.70,93.61 L296.90,93.83 L298.10,93.27 L299.30,94.26 L300.50,93.73 L301.70,93.43 L302.90,93.47 L304.10,93.48 L305.30,93.10 L306.50,93.67 L307.70,93.34 L308.90,93.46 L310.10,93.33 L311.30,93.44 L312.50,93.57 L313.70,93.28 L314.90,93.89 L316.10,93.27 L317.30,93.44 L318.50,93.54 L319.70,93.68 L320.90,93.59 L322.10,93.54 L323.30,93.64 L324.50,93.61 L325.70,93.31 L326.90,93.65 L328.10,93.37 L329.30,93.26 L330.50,93.48 L331.70,93.39 L332.90,93.55 L334.10,93.55 L335.30,93.35 L336.50,93.55 L337.70,93.46 L338.90,93.11 L340.10,93.81 L341.30,93.46 L342.50,93.43 L343.70,93.64 L344.90,93.14 L346.10,93.30 L347.30,93.65 L348.50,93.02 L349.70,93.24 L350.90,93.79 L352.10,93.56 L353.30,93.20 L354.50,93.43 L355.70,93.58 L356.90,93.23 L358.10,93.41 L359.30,93.48 L360.50,93.41 L361.70,93.73" stroke="#FA561C" stroke-width="1.8" fill="none" stroke-linejoin="round" stroke-linecap="round"/>
<path d="M234.50,93.40 L235.70,93.42 L236.90,93.42 L238.10,93.39 L239.30,93.46 L240.50,93.34 L241.70,93.48 L242.90,93.39 L244.10,93.52 L245.30,93.51 L246.50,93.36 L247.70,93.54 L248.90,93.53 L250.10,93.37 L251.30,93.86 L252.50,93.65 L253.70,93.25 L254.90,93.29 L256.10,93.58 L257.30,93.59 L258.50,93.37 L259.70,93.80 L260.90,93.56 L262.10,93.36 L263.30,93.47 L264.50,93.52 L265.70,93.23 L266.90,93.39 L268.10,93.19 L269.30,93.53 L270.50,93.74 L271.70,93.33 L272.90,93.69 L274.10,93.37 L275.30,93.61 L276.50,93.54 L277.70,93.39 L278.90,93.55 L280.10,93.41 L281.30,93.76 L282.50,93.71 L283.70,93.98 L284.90,93.40 L286.10,93.98 L287.30,93.73 L288.50,93.85 L289.70,93.74 L290.90,94.13 L292.10,94.11 L293.30,94.05 L294.50,93.89 L295.70,93.33 L296.90,93.98 L298.10,93.87 L299.30,93.86 L300.50,94.00 L301.70,94.19 L302.90,94.00 L304.10,93.86 L305.30,93.81 L306.50,94.08 L307.70,94.26 L308.90,94.16 L310.10,94.16 L311.30,93.98 L312.50,93.83 L313.70,94.33 L314.90,94.27 L316.10,93.76 L317.30,94.02 L318.50,94.42 L319.70,94.46 L320.90,94.10 L322.10,94.76 L323.30,94.59 L324.50,94.52 L325.70,94.30 L326.90,94.04 L328.10,94.54 L329.30,94.77 L330.50,94.60 L331.70,94.18 L332.90,94.68 L334.10,94.30 L335.30,93.98 L336.50,94.54 L337.70,93.89 L338.90,94.52 L340.10,94.72 L341.30,94.73 L342.50,95.10 L343.70,94.65 L344.90,94.28 L346.10,94.63 L347.30,94.63 L348.50,94.34 L349.70,94.07 L350.90,94.35 L352.10,94.26 L353.30,94.31 L354.50,94.33 L355.70,94.51 L356.90,94.45 L358.10,94.61 L359.30,94.15 L360.50,94.44 L361.70,93.83" stroke="#FAAA0A" stroke-width="1.8" fill="none" stroke-linejoin="round" stroke-linecap="round"/>
</g>
<g clip-path="url(#cc2)">
<path d="M62.50,313.50 L63.70,313.57 L64.90,313.15 L66.10,313.30 L67.30,313.19 L68.50,314.96 L69.70,312.61 L70.90,314.20 L72.10,313.29 L73.30,313.88 L74.50,313.13 L75.70,313.37 L76.90,313.41 L78.10,313.12 L79.30,313.47 L80.50,313.24 L81.70,313.83 L82.90,314.22 L84.10,312.88 L85.30,312.80 L86.50,313.20 L87.70,311.74 L88.90,313.11 L90.10,312.52 L91.30,312.30 L92.50,311.76 L93.70,312.70 L94.90,313.21 L96.10,312.47 L97.30,312.19 L98.50,312.42 L99.70,312.70 L100.90,311.98 L102.10,312.40 L103.30,312.01 L104.50,312.65 L105.70,313.95 L106.90,312.83 L108.10,314.09 L109.30,312.19 L110.50,311.87 L111.70,312.44 L112.90,312.68 L114.10,312.87 L115.30,312.86 L116.50,312.34 L117.70,313.16 L118.90,312.46 L120.10,312.99 L121.30,312.79 L122.50,312.63 L123.70,312.58 L124.90,311.90 L126.10,312.76 L127.30,312.77 L128.50,312.00 L129.70,314.09 L130.90,312.40 L132.10,311.36 L133.30,311.13 L134.50,311.60 L135.70,310.63 L136.90,312.41 L138.10,311.34 L139.30,312.30 L140.50,311.01 L141.70,312.06 L142.90,312.58 L144.10,312.14 L145.30,310.41 L146.50,311.54 L147.70,311.09 L148.90,312.00 L150.10,311.28 L151.30,312.06 L152.50,310.41 L153.70,308.78 L154.90,308.06 L156.10,308.51 L157.30,305.52 L158.50,303.64 L159.70,305.24 L160.90,303.52 L162.10,301.43 L163.30,302.15 L164.50,302.47 L165.70,302.08 L166.90,304.20 L168.10,303.78 L169.30,303.16 L170.50,302.52 L171.70,305.34 L172.90,304.89 L174.10,306.25 L175.30,304.68 L176.50,305.91 L177.70,306.27 L178.90,305.48 L180.10,305.39 L181.30,306.58 L182.50,306.86 L183.70,307.29 L184.90,307.96 L186.10,309.97 L187.30,308.91 L188.50,310.32" stroke="#0A78CC" stroke-width="1.9" fill="none" stroke-linejoin="round" stroke-linecap="round"/>
<path d="M62.50,312.00 L63.70,312.07 L64.90,312.19 L66.10,311.91 L67.30,312.44 L68.50,312.34 L69.70,312.60 L70.90,312.44 L72.10,312.85 L73.30,312.06 L74.50,313.19 L75.70,313.01 L76.90,312.33 L78.10,312.89 L79.30,312.84 L80.50,312.01 L81.70,313.00 L82.90,312.57 L84.10,312.75 L85.30,312.65 L86.50,312.77 L87.70,313.02 L88.90,313.07 L90.10,312.46 L91.30,313.02 L92.50,312.64 L93.70,312.72 L94.90,313.14 L96.10,313.67 L97.30,313.63 L98.50,313.19 L99.70,313.20 L100.90,313.21 L102.10,313.66 L103.30,314.03 L104.50,313.72 L105.70,314.05 L106.90,313.96 L108.10,314.50 L109.30,313.16 L110.50,313.18 L111.70,314.01 L112.90,314.41 L114.10,314.05 L115.30,314.45 L116.50,313.88 L117.70,313.90 L118.90,314.18 L120.10,314.87 L121.30,314.87 L122.50,314.37 L123.70,314.79 L124.90,314.51 L126.10,314.84 L127.30,314.44 L128.50,314.92 L129.70,314.69 L130.90,315.02 L132.10,314.83 L133.30,314.81 L134.50,315.24 L135.70,315.11 L136.90,315.30 L138.10,315.18 L139.30,315.64 L140.50,315.12 L141.70,315.80 L142.90,316.08 L144.10,315.48 L145.30,316.33 L146.50,316.49 L147.70,315.90 L148.90,315.22 L150.10,315.15 L151.30,315.76 L152.50,316.58 L153.70,316.13 L154.90,316.23 L156.10,315.85 L157.30,315.67 L158.50,316.13 L159.70,315.55 L160.90,315.93 L162.10,316.21 L163.30,316.02 L164.50,316.21 L165.70,315.82 L166.90,316.22 L168.10,316.13 L169.30,315.29 L170.50,315.52 L171.70,315.62 L172.90,316.15 L174.10,315.99 L175.30,315.95 L176.50,315.88 L177.70,316.04 L178.90,316.14 L180.10,315.51 L181.30,315.06 L182.50,315.94 L183.70,315.55 L184.90,315.63 L186.10,315.51 L187.30,315.10 L188.50,314.92" stroke="#FA561C" stroke-width="1.9" fill="none" stroke-linejoin="round" stroke-linecap="round"/>
<path d="M62.50,314.00 L63.70,314.36 L64.90,314.50 L66.10,315.06 L67.30,314.63 L68.50,313.90 L69.70,316.77 L70.90,316.11 L72.10,314.43 L73.30,315.41 L74.50,315.95 L75.70,316.87 L76.90,317.79 L78.10,317.20 L79.30,316.82 L80.50,317.66 L81.70,317.30 L82.90,317.75 L84.10,317.27 L85.30,317.01 L86.50,319.03 L87.70,317.98 L88.90,318.45 L90.10,318.06 L91.30,318.25 L92.50,318.54 L93.70,319.45 L94.90,320.02 L96.10,319.65 L97.30,318.97 L98.50,321.62 L99.70,320.28 L100.90,320.49 L102.10,319.50 L103.30,319.85 L104.50,320.59 L105.70,318.92 L106.90,319.72 L108.10,320.68 L109.30,322.27 L110.50,320.85 L111.70,319.85 L112.90,319.83 L114.10,321.61 L115.30,320.44 L116.50,320.99 L117.70,322.95 L118.90,321.77 L120.10,321.72 L121.30,321.67 L122.50,323.53 L123.70,323.80 L124.90,322.58 L126.10,322.27 L127.30,323.46 L128.50,324.79 L129.70,324.30 L130.90,323.23 L132.10,324.55 L133.30,325.00 L134.50,324.47 L135.70,324.60 L136.90,324.34 L138.10,323.68 L139.30,323.20 L140.50,322.33 L141.70,322.07 L142.90,321.24 L144.10,322.44 L145.30,322.08 L146.50,321.38 L147.70,321.27 L148.90,320.58 L150.10,319.59 L151.30,319.95 L152.50,319.25 L153.70,319.07 L154.90,317.43 L156.10,318.40 L157.30,318.94 L158.50,318.21 L159.70,317.68 L160.90,316.97 L162.10,317.56 L163.30,319.02 L164.50,317.38 L165.70,318.55 L166.90,317.31 L168.10,318.38 L169.30,317.11 L170.50,317.73 L171.70,317.87 L172.90,317.80 L174.10,316.59 L175.30,317.01 L176.50,316.58 L177.70,317.11 L178.90,316.94 L180.10,316.97 L181.30,317.59 L182.50,316.33 L183.70,316.49 L184.90,316.64 L186.10,316.87 L187.30,316.43 L188.50,317.40" stroke="#FAAA0A" stroke-width="1.9" fill="none" stroke-linejoin="round" stroke-linecap="round"/>
<path d="M62.50,313.00 L63.70,312.94 L64.90,313.01 L66.10,312.93 L67.30,312.59 L68.50,313.13 L69.70,312.83 L70.90,312.98 L72.10,313.26 L73.30,312.83 L74.50,312.46 L75.70,312.52 L76.90,312.90 L78.10,312.23 L79.30,312.60 L80.50,312.56 L81.70,312.10 L82.90,312.34 L84.10,312.33 L85.30,311.89 L86.50,311.85 L87.70,311.99 L88.90,311.41 L90.10,311.40 L91.30,311.74 L92.50,311.41 L93.70,310.92 L94.90,311.18 L96.10,311.58 L97.30,310.63 L98.50,311.15 L99.70,311.07 L100.90,310.79 L102.10,310.93 L103.30,310.57 L104.50,311.08 L105.70,311.09 L106.90,310.41 L108.10,310.54 L109.30,310.60 L110.50,310.39 L111.70,310.62 L112.90,310.26 L114.10,310.65 L115.30,310.42 L116.50,310.49 L117.70,310.63 L118.90,310.76 L120.10,310.31 L121.30,310.79 L122.50,310.85 L123.70,310.64 L124.90,311.09 L126.10,310.55 L127.30,310.63 L128.50,310.89 L129.70,310.63 L130.90,311.15 L132.10,310.86 L133.30,311.26 L134.50,310.57 L135.70,310.57 L136.90,311.06 L138.10,310.31 L139.30,310.60 L140.50,309.80 L141.70,309.65 L142.90,309.41 L144.10,308.59 L145.30,307.80 L146.50,307.46 L147.70,307.39 L148.90,306.73 L150.10,306.43 L151.30,305.84 L152.50,305.48 L153.70,304.97 L154.90,304.42 L156.10,304.52 L157.30,304.20 L158.50,303.50 L159.70,303.92 L160.90,304.17 L162.10,304.49 L163.30,303.82 L164.50,304.42 L165.70,304.84 L166.90,305.28 L168.10,305.37 L169.30,306.24 L170.50,306.68 L171.70,307.48 L172.90,308.04 L174.10,308.88 L175.30,309.22 L176.50,309.80 L177.70,310.05 L178.90,310.60 L180.10,311.05 L181.30,310.85 L182.50,310.91 L183.70,311.23 L184.90,311.32 L186.10,311.19 L187.30,311.75 L188.50,311.76" stroke="#86269C" stroke-width="1.9" fill="none" stroke-linejoin="round" stroke-linecap="round"/>
<path d="M62.50,315.00 L63.70,315.11 L64.90,315.82 L66.10,315.73 L67.30,316.03 L68.50,315.95 L69.70,316.27 L70.90,316.59 L72.10,316.76 L73.30,316.66 L74.50,317.38 L75.70,317.57 L76.90,317.56 L78.10,317.55 L79.30,317.73 L80.50,317.93 L81.70,318.70 L82.90,318.71 L84.10,319.48 L85.30,319.07 L86.50,320.02 L87.70,320.06 L88.90,320.14 L90.10,321.11 L91.30,321.09 L92.50,321.70 L93.70,322.18 L94.90,322.31 L96.10,322.31 L97.30,323.00 L98.50,323.80 L99.70,323.72 L100.90,324.90 L102.10,325.38 L103.30,325.98 L104.50,326.68 L105.70,327.24 L106.90,328.31 L108.10,329.23 L109.30,328.83 L110.50,329.90 L111.70,330.50 L112.90,330.54 L114.10,331.20 L115.30,330.70 L116.50,331.34 L117.70,331.35 L118.90,331.07 L120.10,330.42 L121.30,331.09 L122.50,329.63 L123.70,329.00 L124.90,327.65 L126.10,327.24 L127.30,327.24 L128.50,326.21 L129.70,326.71 L130.90,327.09 L132.10,325.77 L133.30,326.19 L134.50,326.62 L135.70,326.12 L136.90,326.52 L138.10,326.16 L139.30,325.28 L140.50,324.73 L141.70,325.45 L142.90,325.69 L144.10,324.76 L145.30,325.34 L146.50,323.97 L147.70,324.60 L148.90,323.99 L150.10,323.75 L151.30,323.37 L152.50,322.94 L153.70,322.83 L154.90,322.07 L156.10,322.51 L157.30,321.30 L158.50,321.64 L159.70,320.64 L160.90,320.22 L162.10,320.68 L163.30,320.26 L164.50,319.84 L165.70,320.22 L166.90,318.92 L168.10,319.30 L169.30,318.78 L170.50,319.07 L171.70,317.69 L172.90,317.71 L174.10,317.39 L175.30,317.00 L176.50,316.51 L177.70,316.79 L178.90,316.56 L180.10,316.11 L181.30,316.21 L182.50,315.48 L183.70,316.59 L184.90,316.11 L186.10,315.88 L187.30,315.98 L188.50,315.45" stroke="#66B21E" stroke-width="1.9" fill="none" stroke-linejoin="round" stroke-linecap="round"/>
<path d="M62.50,313.50 L63.70,312.95 L64.90,312.44 L66.10,311.86 L67.30,311.57 L68.50,310.77 L69.70,309.94 L70.90,309.99 L72.10,309.81 L73.30,309.46 L74.50,308.84 L75.70,308.09 L76.90,309.03 L78.10,308.11 L79.30,307.96 L80.50,307.35 L81.70,307.03 L82.90,307.21 L84.10,307.07 L85.30,306.28 L86.50,306.20 L87.70,305.98 L88.90,305.71 L90.10,305.66 L91.30,305.76 L92.50,305.17 L93.70,306.25 L94.90,305.08 L96.10,305.29 L97.30,305.85 L98.50,305.09 L99.70,305.14 L100.90,305.23 L102.10,305.48 L103.30,304.64 L104.50,305.32 L105.70,304.51 L106.90,305.43 L108.10,305.25 L109.30,305.17 L110.50,305.04 L111.70,305.79 L112.90,305.81 L114.10,306.18 L115.30,305.72 L116.50,306.46 L117.70,306.94 L118.90,307.47 L120.10,307.35 L121.30,307.99 L122.50,309.31 L123.70,309.71 L124.90,310.52 L126.10,310.72 L127.30,311.71 L128.50,312.01 L129.70,312.53 L130.90,313.13 L132.10,314.18 L133.30,314.14 L134.50,314.64 L135.70,315.44 L136.90,316.31 L138.10,316.91 L139.30,317.41 L140.50,317.98 L141.70,318.02 L142.90,318.52 L144.10,319.59 L145.30,319.53 L146.50,320.13 L147.70,320.25 L148.90,321.22 L150.10,321.24 L151.30,322.00 L152.50,322.54 L153.70,322.96 L154.90,323.54 L156.10,323.84 L157.30,324.04 L158.50,323.91 L159.70,323.79 L160.90,323.99 L162.10,323.89 L163.30,323.75 L164.50,324.44 L165.70,323.49 L166.90,323.94 L168.10,323.41 L169.30,322.80 L170.50,323.66 L171.70,322.59 L172.90,322.00 L174.10,322.64 L175.30,321.43 L176.50,321.14 L177.70,321.17 L178.90,320.00 L180.10,319.65 L181.30,319.83 L182.50,319.43 L183.70,318.74 L184.90,318.24 L186.10,317.98 L187.30,318.27 L188.50,318.22" stroke="#1CB6F0" stroke-width="1.9" fill="none" stroke-linejoin="round" stroke-linecap="round"/>
<path d="M62.50,313.00 L63.70,313.01 L64.90,313.01 L66.10,313.02 L67.30,313.46 L68.50,313.18 L69.70,313.29 L70.90,313.18 L72.10,312.85 L73.30,313.31 L74.50,313.57 L75.70,313.36 L76.90,313.14 L78.10,312.92 L79.30,314.11 L80.50,313.21 L81.70,313.28 L82.90,313.15 L84.10,313.89 L85.30,313.90 L86.50,313.64 L87.70,313.97 L88.90,314.22 L90.10,314.08 L91.30,313.93 L92.50,314.32 L93.70,314.62 L94.90,314.24 L96.10,314.49 L97.30,315.05 L98.50,315.32 L99.70,315.29 L100.90,315.16 L102.10,315.59 L103.30,315.03 L104.50,315.23 L105.70,315.25 L106.90,315.75 L108.10,315.16 L109.30,315.34 L110.50,316.22 L111.70,315.45 L112.90,314.97 L114.10,316.05 L115.30,316.19 L116.50,315.50 L117.70,315.54 L118.90,315.71 L120.10,316.03 L121.30,316.52 L122.50,316.48 L123.70,315.61 L124.90,316.76 L126.10,315.92 L127.30,316.37 L128.50,316.27 L129.70,316.19 L130.90,315.92 L132.10,317.25 L133.30,316.44 L134.50,317.03 L135.70,316.25 L136.90,316.80 L138.10,316.41 L139.30,316.80 L140.50,317.07 L141.70,316.39 L142.90,316.72 L144.10,316.96 L145.30,317.27 L146.50,317.28 L147.70,316.72 L148.90,316.57 L150.10,316.93 L151.30,317.39 L152.50,317.52 L153.70,316.66 L154.90,316.48 L156.10,317.06 L157.30,317.47 L158.50,317.89 L159.70,317.17 L160.90,317.46 L162.10,318.02 L163.30,317.39 L164.50,318.09 L165.70,318.44 L166.90,318.30 L168.10,318.64 L169.30,317.88 L170.50,317.48 L171.70,318.72 L172.90,318.44 L174.10,318.71 L175.30,318.28 L176.50,317.80 L177.70,318.09 L178.90,318.17 L180.10,318.06 L181.30,318.43 L182.50,318.52 L183.70,318.19 L184.90,317.75 L186.10,317.54 L187.30,318.45 L188.50,318.46" stroke="#B8142E" stroke-width="1.9" fill="none" stroke-linejoin="round" stroke-linecap="round"/>
<path d="M62.50,315.50 L63.70,315.92 L64.90,316.10 L66.10,317.23 L67.30,317.97 L68.50,318.28 L69.70,316.59 L70.90,317.77 L72.10,319.73 L73.30,320.80 L74.50,319.16 L75.70,321.33 L76.90,321.88 L78.10,321.55 L79.30,321.07 L80.50,322.07 L81.70,322.73 L82.90,323.83 L84.10,324.25 L85.30,323.16 L86.50,324.00 L87.70,324.24 L88.90,324.32 L90.10,325.26 L91.30,324.54 L92.50,324.80 L93.70,323.89 L94.90,325.10 L96.10,324.37 L97.30,326.34 L98.50,325.10 L99.70,325.09 L100.90,324.97 L102.10,324.02 L103.30,324.46 L104.50,324.77 L105.70,325.26 L106.90,324.71 L108.10,323.57 L109.30,324.29 L110.50,324.29 L111.70,323.14 L112.90,324.64 L114.10,324.73 L115.30,323.50 L116.50,325.60 L117.70,324.24 L118.90,323.56 L120.10,325.31 L121.30,323.53 L122.50,324.04 L123.70,322.64 L124.90,323.08 L126.10,324.96 L127.30,322.84 L128.50,322.67 L129.70,322.72 L130.90,321.90 L132.10,321.15 L133.30,320.86 L134.50,321.04 L135.70,321.83 L136.90,320.90 L138.10,321.52 L139.30,318.91 L140.50,319.25 L141.70,318.95 L142.90,318.80 L144.10,318.68 L145.30,316.74 L146.50,318.78 L147.70,317.55 L148.90,317.05 L150.10,317.43 L151.30,316.71 L152.50,316.13 L153.70,316.65 L154.90,315.46 L156.10,315.95 L157.30,317.17 L158.50,316.92 L159.70,315.71 L160.90,314.88 L162.10,316.52 L163.30,316.60 L164.50,316.25 L165.70,315.54 L166.90,316.24 L168.10,315.90 L169.30,316.24 L170.50,316.47 L171.70,316.00 L172.90,315.84 L174.10,316.33 L175.30,316.10 L176.50,315.27 L177.70,315.77 L178.90,316.27 L180.10,316.17 L181.30,315.51 L182.50,315.59 L183.70,314.93 L184.90,315.79 L186.10,316.35 L187.30,315.85 L188.50,315.20" stroke="#0A78CC" stroke-width="1.9" fill="none" stroke-linejoin="round" stroke-linecap="round"/>
<path d="M62.50,314.00 L63.70,314.12 L64.90,314.26 L66.10,314.54 L67.30,314.58 L68.50,315.16 L69.70,314.20 L70.90,315.13 L72.10,314.91 L73.30,315.50 L74.50,315.59 L75.70,315.54 L76.90,315.06 L78.10,315.16 L79.30,315.52 L80.50,315.34 L81.70,314.86 L82.90,315.11 L84.10,315.89 L85.30,315.40 L86.50,315.76 L87.70,315.94 L88.90,315.45 L90.10,315.90 L91.30,316.65 L92.50,316.72 L93.70,316.42 L94.90,316.48 L96.10,316.23 L97.30,316.40 L98.50,316.75 L99.70,315.87 L100.90,316.35 L102.10,316.43 L103.30,316.94 L104.50,316.24 L105.70,317.46 L106.90,316.46 L108.10,317.60 L109.30,316.81 L110.50,316.92 L111.70,317.57 L112.90,316.25 L114.10,317.26 L115.30,317.71 L116.50,316.70 L117.70,317.41 L118.90,316.91 L120.10,317.53 L121.30,317.09 L122.50,317.70 L123.70,317.12 L124.90,317.14 L126.10,317.26 L127.30,317.03 L128.50,318.02 L129.70,317.76 L130.90,318.04 L132.10,318.01 L133.30,318.17 L134.50,317.23 L135.70,317.85 L136.90,317.69 L138.10,317.81 L139.30,317.85 L140.50,317.27 L141.70,317.36 L142.90,317.09 L144.10,318.46 L145.30,318.05 L146.50,317.77 L147.70,318.19 L148.90,317.86 L150.10,317.85 L151.30,318.10 L152.50,318.18 L153.70,317.96 L154.90,317.89 L156.10,318.41 L157.30,319.46 L158.50,318.36 L159.70,318.99 L160.90,318.95 L162.10,318.36 L163.30,317.79 L164.50,318.26 L165.70,318.61 L166.90,318.96 L168.10,318.57 L169.30,318.31 L170.50,319.28 L171.70,318.61 L172.90,318.53 L174.10,318.74 L175.30,317.79 L176.50,318.92 L177.70,317.74 L178.90,318.29 L180.10,317.72 L181.30,318.11 L182.50,318.85 L183.70,319.15 L184.90,318.86 L186.10,318.73 L187.30,317.74 L188.50,319.40" stroke="#FA561C" stroke-width="1.9" fill="none" stroke-linejoin="round" stroke-linecap="round"/>
<path d="M62.50,312.50 L63.70,312.57 L64.90,312.63 L66.10,312.44 L67.30,312.32 L68.50,312.89 L69.70,312.97 L70.90,313.61 L72.10,312.66 L73.30,313.11 L74.50,313.07 L75.70,312.96 L76.90,312.58 L78.10,312.55 L79.30,313.96 L80.50,313.03 L81.70,314.08 L82.90,313.59 L84.10,313.10 L85.30,313.56 L86.50,312.81 L87.70,313.26 L88.90,313.49 L90.10,313.64 L91.30,313.33 L92.50,313.15 L93.70,313.52 L94.90,313.65 L96.10,313.47 L97.30,313.59 L98.50,314.05 L99.70,314.21 L100.90,314.23 L102.10,313.41 L103.30,313.58 L104.50,313.99 L105.70,313.91 L106.90,314.40 L108.10,313.78 L109.30,314.18 L110.50,313.62 L111.70,313.58 L112.90,313.70 L114.10,314.31 L115.30,313.13 L116.50,313.62 L117.70,313.41 L118.90,313.82 L120.10,314.22 L121.30,314.13 L122.50,314.13 L123.70,313.40 L124.90,314.10 L126.10,314.54 L127.30,314.12 L128.50,314.52 L129.70,313.54 L130.90,314.14 L132.10,314.47 L133.30,314.03 L134.50,313.61 L135.70,313.54 L136.90,313.75 L138.10,314.12 L139.30,313.73 L140.50,313.93 L141.70,313.72 L142.90,313.97 L144.10,314.19 L145.30,314.18 L146.50,314.31 L147.70,314.53 L148.90,314.80 L150.10,314.46 L151.30,313.77 L152.50,314.71 L153.70,314.23 L154.90,314.72 L156.10,314.39 L157.30,314.80 L158.50,314.66 L159.70,314.13 L160.90,315.00 L162.10,314.27 L163.30,314.39 L164.50,314.87 L165.70,314.19 L166.90,314.53 L168.10,314.90 L169.30,314.63 L170.50,314.60 L171.70,315.00 L172.90,314.80 L174.10,314.39 L175.30,314.19 L176.50,314.15 L177.70,314.24 L178.90,314.93 L180.10,313.91 L181.30,314.46 L182.50,313.83 L183.70,314.65 L184.90,314.48 L186.10,314.84 L187.30,313.72 L188.50,314.21" stroke="#FAAA0A" stroke-width="1.9" fill="none" stroke-linejoin="round" stroke-linecap="round"/>
<path d="M62.50,315.00 L63.70,314.95 L64.90,314.94 L66.10,315.22 L67.30,314.79 L68.50,314.74 L69.70,314.98 L70.90,315.63 L72.10,314.84 L73.30,314.94 L74.50,315.27 L75.70,315.27 L76.90,315.38 L78.10,315.06 L79.30,314.96 L80.50,314.84 L81.70,315.45 L82.90,315.28 L84.10,315.53 L85.30,315.42 L86.50,315.91 L87.70,315.65 L88.90,315.53 L90.10,315.52 L91.30,315.35 L92.50,315.42 L93.70,315.48 L94.90,316.16 L96.10,315.59 L97.30,315.48 L98.50,315.81 L99.70,316.01 L100.90,315.40 L102.10,315.02 L103.30,315.77 L104.50,316.26 L105.70,315.70 L106.90,316.20 L108.10,316.13 L109.30,316.29 L110.50,315.86 L111.70,315.99 L112.90,316.71 L114.10,316.42 L115.30,315.34 L116.50,316.69 L117.70,316.98 L118.90,316.21 L120.10,316.62 L121.30,316.06 L122.50,316.41 L123.70,316.44 L124.90,316.22 L126.10,316.77 L127.30,316.66 L128.50,316.71 L129.70,316.81 L130.90,315.74 L132.10,316.63 L133.30,315.95 L134.50,316.36 L135.70,316.49 L136.90,316.12 L138.10,316.53 L139.30,316.01 L140.50,316.30 L141.70,316.75 L142.90,316.08 L144.10,316.46 L145.30,315.84 L146.50,316.45 L147.70,315.71 L148.90,315.94 L150.10,315.67 L151.30,316.31 L152.50,315.84 L153.70,315.97 L154.90,316.22 L156.10,316.42 L157.30,316.27 L158.50,315.95 L159.70,316.51 L160.90,316.28 L162.10,315.89 L163.30,316.57 L164.50,315.54 L165.70,315.79 L166.90,316.25 L168.10,316.01 L169.30,315.89 L170.50,315.57 L171.70,315.30 L172.90,315.47 L174.10,315.75 L175.30,315.35 L176.50,314.99 L177.70,315.31 L178.90,316.16 L180.10,315.70 L181.30,316.07 L182.50,315.31 L183.70,315.20 L184.90,315.03 L186.10,315.80 L187.30,314.84 L188.50,315.06" stroke="#86269C" stroke-width="1.9" fill="none" stroke-linejoin="round" stroke-linecap="round"/>
<path d="M62.50,312.00 L63.70,312.04 L64.90,312.04 L66.10,312.16 L67.30,311.71 L68.50,312.49 L69.70,312.16 L70.90,311.73 L72.10,311.69 L73.30,311.73 L74.50,311.96 L75.70,312.64 L76.90,312.56 L78.10,312.08 L79.30,312.10 L80.50,312.98 L81.70,312.64 L82.90,312.06 L84.10,312.31 L85.30,312.23 L86.50,312.45 L87.70,312.72 L88.90,312.33 L90.10,312.57 L91.30,312.65 L92.50,312.74 L93.70,312.25 L94.90,312.40 L96.10,313.18 L97.30,312.43 L98.50,312.51 L99.70,312.65 L100.90,312.30 L102.10,312.36 L103.30,313.08 L104.50,312.94 L105.70,312.09 L106.90,312.50 L108.10,312.01 L109.30,311.92 L110.50,312.44 L111.70,312.96 L112.90,312.39 L114.10,312.92 L115.30,312.02 L116.50,312.42 L117.70,312.39 L118.90,312.37 L120.10,312.67 L121.30,312.51 L122.50,312.10 L123.70,311.80 L124.90,312.06 L126.10,312.23 L127.30,312.02 L128.50,311.66 L129.70,311.56 L130.90,312.44 L132.10,312.23 L133.30,311.91 L134.50,312.25 L135.70,312.25 L136.90,311.98 L138.10,311.88 L139.30,312.41 L140.50,312.29 L141.70,312.47 L142.90,312.30 L144.10,312.00 L145.30,311.72 L146.50,311.72 L147.70,311.59 L148.90,311.78 L150.10,311.78 L151.30,312.07 L152.50,312.09 L153.70,311.58 L154.90,311.69 L156.10,311.12 L157.30,311.28 L158.50,311.12 L159.70,311.55 L160.90,311.31 L162.10,311.24 L163.30,311.51 L164.50,310.87 L165.70,311.51 L166.90,311.72 L168.10,312.01 L169.30,311.18 L170.50,311.46 L171.70,310.92 L172.90,312.12 L174.10,311.61 L175.30,311.78 L176.50,311.19 L177.70,311.66 L178.90,311.56 L180.10,311.37 L181.30,311.41 L182.50,311.51 L183.70,311.56 L184.90,311.28 L186.10,312.38 L187.30,311.93 L188.50,312.00" stroke="#66B21E" stroke-width="1.9" fill="none" stroke-linejoin="round" stroke-linecap="round"/>
<path d="M62.50,311.00 L63.70,310.98 L64.90,311.21 L66.10,311.37 L67.30,310.68 L68.50,310.83 L69.70,311.40 L70.90,311.30 L72.10,311.47 L73.30,311.23 L74.50,311.90 L75.70,311.92 L76.90,311.73 L78.10,312.16 L79.30,311.99 L80.50,311.58 L81.70,312.06 L82.90,311.65 L84.10,312.34 L85.30,312.06 L86.50,312.06 L87.70,311.93 L88.90,312.65 L90.10,312.20 L91.30,312.15 L92.50,312.21 L93.70,312.55 L94.90,312.53 L96.10,312.57 L97.30,312.60 L98.50,313.22 L99.70,312.35 L100.90,312.33 L102.10,312.24 L103.30,312.75 L104.50,312.93 L105.70,312.50 L106.90,312.25 L108.10,312.26 L109.30,312.77 L110.50,312.80 L111.70,312.73 L112.90,312.30 L114.10,312.61 L115.30,312.56 L116.50,312.58 L117.70,312.80 L118.90,312.57 L120.10,312.71 L121.30,312.49 L122.50,312.55 L123.70,312.66 L124.90,311.91 L126.10,312.30 L127.30,312.23 L128.50,312.16 L129.70,312.27 L130.90,312.88 L132.10,312.04 L133.30,312.67 L134.50,311.72 L135.70,312.18 L136.90,312.34 L138.10,312.48 L139.30,312.51 L140.50,312.53 L141.70,312.12 L142.90,312.07 L144.10,312.52 L145.30,312.15 L146.50,311.76 L147.70,311.81 L148.90,311.88 L150.10,312.37 L151.30,312.25 L152.50,312.44 L153.70,312.06 L154.90,312.26 L156.10,312.43 L157.30,312.11 L158.50,312.38 L159.70,312.00 L160.90,312.11 L162.10,312.11 L163.30,311.83 L164.50,312.43 L165.70,312.10 L166.90,312.28 L168.10,312.46 L169.30,312.46 L170.50,312.54 L171.70,312.29 L172.90,312.18 L174.10,312.32 L175.30,311.76 L176.50,311.86 L177.70,311.92 L178.90,312.04 L180.10,312.54 L181.30,312.10 L182.50,312.30 L183.70,312.90 L184.90,312.33 L186.10,312.73 L187.30,312.15 L188.50,312.42" stroke="#1CB6F0" stroke-width="1.9" fill="none" stroke-linejoin="round" stroke-linecap="round"/>
<path d="M62.50,316.00 L63.70,316.01 L64.90,315.85 L66.10,315.71 L67.30,315.31 L68.50,316.18 L69.70,315.81 L70.90,315.84 L72.10,315.46 L73.30,316.13 L74.50,316.00 L75.70,315.59 L76.90,315.40 L78.10,315.43 L79.30,315.24 L80.50,315.49 L81.70,315.23 L82.90,315.61 L84.10,315.23 L85.30,315.19 L86.50,315.81 L87.70,314.97 L88.90,314.63 L90.10,315.26 L91.30,314.36 L92.50,315.14 L93.70,315.34 L94.90,314.98 L96.10,314.92 L97.30,314.15 L98.50,315.02 L99.70,314.93 L100.90,314.34 L102.10,315.38 L103.30,314.24 L104.50,314.05 L105.70,313.97 L106.90,314.58 L108.10,314.66 L109.30,314.67 L110.50,314.37 L111.70,314.18 L112.90,314.74 L114.10,314.11 L115.30,313.98 L116.50,314.88 L117.70,314.43 L118.90,314.52 L120.10,314.56 L121.30,314.13 L122.50,314.13 L123.70,314.53 L124.90,314.08 L126.10,314.40 L127.30,314.25 L128.50,313.86 L129.70,314.61 L130.90,313.82 L132.10,314.35 L133.30,314.29 L134.50,314.71 L135.70,313.88 L136.90,314.09 L138.10,314.25 L139.30,314.36 L140.50,314.61 L141.70,314.43 L142.90,314.34 L144.10,314.71 L145.30,315.10 L146.50,313.91 L147.70,314.40 L148.90,314.69 L150.10,314.48 L151.30,314.98 L152.50,314.38 L153.70,314.17 L154.90,314.86 L156.10,313.62 L157.30,314.45 L158.50,315.48 L159.70,314.69 L160.90,314.84 L162.10,314.42 L163.30,314.78 L164.50,314.77 L165.70,315.51 L166.90,314.54 L168.10,313.97 L169.30,315.12 L170.50,315.56 L171.70,314.82 L172.90,314.47 L174.10,314.79 L175.30,315.37 L176.50,315.08 L177.70,315.35 L178.90,314.57 L180.10,315.28 L181.30,315.80 L182.50,315.50 L183.70,315.30 L184.90,316.10 L186.10,316.15 L187.30,315.71 L188.50,315.69" stroke="#B8142E" stroke-width="1.9" fill="none" stroke-linejoin="round" stroke-linecap="round"/>
</g>
<g clip-path="url(#cc3)">
<path d="M234.50,314.60 L235.70,314.52 L236.90,314.61 L238.10,314.19 L239.30,314.04 L240.50,314.72 L241.70,314.71 L242.90,314.86 L244.10,314.14 L245.30,314.48 L246.50,314.28 L247.70,314.13 L248.90,314.28 L250.10,314.05 L251.30,314.52 L252.50,314.09 L253.70,313.62 L254.90,314.02 L256.10,314.01 L257.30,312.99 L258.50,313.69 L259.70,313.51 L260.90,313.46 L262.10,313.01 L263.30,312.91 L264.50,313.75 L265.70,313.73 L266.90,313.71 L268.10,312.86 L269.30,312.72 L270.50,312.92 L271.70,313.13 L272.90,313.22 L274.10,313.01 L275.30,312.90 L276.50,312.70 L277.70,312.47 L278.90,312.87 L280.10,312.05 L281.30,313.05 L282.50,312.23 L283.70,311.65 L284.90,312.42 L286.10,312.31 L287.30,312.51 L288.50,312.38 L289.70,311.92 L290.90,312.28 L292.10,311.67 L293.30,311.90 L294.50,311.24 L295.70,311.43 L296.90,311.54 L298.10,311.16 L299.30,311.85 L300.50,312.29 L301.70,311.20 L302.90,311.06 L304.10,310.57 L305.30,311.12 L306.50,310.90 L307.70,310.95 L308.90,310.41 L310.10,310.59 L311.30,310.60 L312.50,311.17 L313.70,310.19 L314.90,310.65 L316.10,310.52 L317.30,310.22 L318.50,309.96 L319.70,310.46 L320.90,310.03 L322.10,310.52 L323.30,310.65 L324.50,309.47 L325.70,309.95 L326.90,309.66 L328.10,309.22 L329.30,309.32 L330.50,309.86 L331.70,310.16 L332.90,309.65 L334.10,309.94 L335.30,309.66 L336.50,309.85 L337.70,309.06 L338.90,308.90 L340.10,309.50 L341.30,308.77 L342.50,308.72 L343.70,309.05 L344.90,309.46 L346.10,309.01 L347.30,309.21 L348.50,308.89 L349.70,309.78 L350.90,308.97 L352.10,309.09 L353.30,309.04 L354.50,309.68 L355.70,309.52 L356.90,309.32 L358.10,308.84 L359.30,309.30 L360.50,309.77 L361.70,309.16" stroke="#0A78CC" stroke-width="1.9" fill="none" stroke-linejoin="round" stroke-linecap="round"/>
<path d="M234.50,314.60 L235.70,314.54 L236.90,314.62 L238.10,314.64 L239.30,314.51 L240.50,314.71 L241.70,314.77 L242.90,314.18 L244.10,314.52 L245.30,314.91 L246.50,314.66 L247.70,314.94 L248.90,315.58 L250.10,314.79 L251.30,315.17 L252.50,315.41 L253.70,315.14 L254.90,315.28 L256.10,315.53 L257.30,315.13 L258.50,316.53 L259.70,315.60 L260.90,315.78 L262.10,315.73 L263.30,315.08 L264.50,315.86 L265.70,315.54 L266.90,316.08 L268.10,315.97 L269.30,316.01 L270.50,315.61 L271.70,315.73 L272.90,315.87 L274.10,316.09 L275.30,316.14 L276.50,316.54 L277.70,316.04 L278.90,316.32 L280.10,316.75 L281.30,316.17 L282.50,317.05 L283.70,316.31 L284.90,316.55 L286.10,316.24 L287.30,316.71 L288.50,316.77 L289.70,316.66 L290.90,315.92 L292.10,316.59 L293.30,316.30 L294.50,316.47 L295.70,315.89 L296.90,316.41 L298.10,316.84 L299.30,316.71 L300.50,316.80 L301.70,317.17 L302.90,317.28 L304.10,317.06 L305.30,317.13 L306.50,317.19 L307.70,316.39 L308.90,316.04 L310.10,316.46 L311.30,317.07 L312.50,317.21 L313.70,316.29 L314.90,317.22 L316.10,317.39 L317.30,316.53 L318.50,316.65 L319.70,316.71 L320.90,316.99 L322.10,316.73 L323.30,316.66 L324.50,316.43 L325.70,316.11 L326.90,316.92 L328.10,316.51 L329.30,316.42 L330.50,316.40 L331.70,316.26 L332.90,316.65 L334.10,316.41 L335.30,316.22 L336.50,316.89 L337.70,316.88 L338.90,316.80 L340.10,316.25 L341.30,316.50 L342.50,316.96 L343.70,316.43 L344.90,316.48 L346.10,316.64 L347.30,316.75 L348.50,315.96 L349.70,316.46 L350.90,316.13 L352.10,316.49 L353.30,316.32 L354.50,316.25 L355.70,316.08 L356.90,316.11 L358.10,316.11 L359.30,316.12 L360.50,315.88 L361.70,316.15" stroke="#FAAA0A" stroke-width="1.9" fill="none" stroke-linejoin="round" stroke-linecap="round"/>
<path d="M234.50,314.60 L235.70,314.55 L236.90,314.33 L238.10,314.63 L239.30,314.84 L240.50,314.85 L241.70,314.04 L242.90,314.35 L244.10,314.21 L245.30,314.15 L246.50,314.33 L247.70,313.88 L248.90,313.71 L250.10,313.89 L251.30,313.76 L252.50,314.33 L253.70,314.01 L254.90,314.29 L256.10,314.13 L257.30,313.77 L258.50,313.47 L259.70,313.66 L260.90,314.14 L262.10,314.02 L263.30,313.70 L264.50,313.93 L265.70,313.63 L266.90,313.24 L268.10,314.28 L269.30,313.75 L270.50,313.26 L271.70,312.92 L272.90,313.87 L274.10,313.59 L275.30,313.73 L276.50,314.07 L277.70,314.35 L278.90,313.45 L280.10,313.86 L281.30,313.48 L282.50,312.90 L283.70,313.83 L284.90,313.45 L286.10,313.37 L287.30,313.43 L288.50,313.16 L289.70,313.99 L290.90,314.32 L292.10,313.78 L293.30,313.21 L294.50,312.75 L295.70,313.54 L296.90,312.98 L298.10,313.21 L299.30,313.52 L300.50,313.09 L301.70,313.21 L302.90,313.08 L304.10,312.96 L305.30,313.45 L306.50,313.11 L307.70,313.64 L308.90,313.08 L310.10,313.31 L311.30,313.19 L312.50,312.62 L313.70,313.47 L314.90,313.21 L316.10,313.73 L317.30,313.67 L318.50,312.82 L319.70,313.27 L320.90,313.06 L322.10,313.52 L323.30,313.00 L324.50,313.15 L325.70,312.97 L326.90,313.10 L328.10,313.10 L329.30,313.01 L330.50,313.20 L331.70,312.90 L332.90,312.95 L334.10,312.66 L335.30,312.89 L336.50,313.36 L337.70,312.78 L338.90,313.01 L340.10,312.73 L341.30,313.15 L342.50,313.43 L343.70,313.26 L344.90,313.05 L346.10,313.37 L347.30,313.02 L348.50,313.32 L349.70,312.82 L350.90,312.78 L352.10,314.02 L353.30,313.05 L354.50,313.33 L355.70,312.98 L356.90,313.18 L358.10,312.37 L359.30,312.72 L360.50,312.95 L361.70,313.49" stroke="#66B21E" stroke-width="1.9" fill="none" stroke-linejoin="round" stroke-linecap="round"/>
<path d="M234.50,314.60 L235.70,314.46 L236.90,314.61 L238.10,314.15 L239.30,313.81 L240.50,314.46 L241.70,314.46 L242.90,313.75 L244.10,313.82 L245.30,314.91 L246.50,313.52 L247.70,313.62 L248.90,314.15 L250.10,313.93 L251.30,314.17 L252.50,313.82 L253.70,313.33 L254.90,313.46 L256.10,313.17 L257.30,313.59 L258.50,313.44 L259.70,312.78 L260.90,313.34 L262.10,312.84 L263.30,313.12 L264.50,312.93 L265.70,313.13 L266.90,312.09 L268.10,313.13 L269.30,312.45 L270.50,313.33 L271.70,312.49 L272.90,312.70 L274.10,312.61 L275.30,312.93 L276.50,313.19 L277.70,312.88 L278.90,312.78 L280.10,312.82 L281.30,312.71 L282.50,312.75 L283.70,312.45 L284.90,312.64 L286.10,313.19 L287.30,313.04 L288.50,312.03 L289.70,312.53 L290.90,312.65 L292.10,312.38 L293.30,312.31 L294.50,312.50 L295.70,312.85 L296.90,312.85 L298.10,312.47 L299.30,312.73 L300.50,312.38 L301.70,312.53 L302.90,312.30 L304.10,311.82 L305.30,312.09 L306.50,312.44 L307.70,312.70 L308.90,312.38 L310.10,312.97 L311.30,312.54 L312.50,312.21 L313.70,312.01 L314.90,312.94 L316.10,312.03 L317.30,311.69 L318.50,312.19 L319.70,311.82 L320.90,312.19 L322.10,311.40 L323.30,312.23 L324.50,312.23 L325.70,311.72 L326.90,311.47 L328.10,311.82 L329.30,312.15 L330.50,311.49 L331.70,311.60 L332.90,312.03 L334.10,311.79 L335.30,311.49 L336.50,311.61 L337.70,311.50 L338.90,311.24 L340.10,311.27 L341.30,310.32 L342.50,311.23 L343.70,311.41 L344.90,311.25 L346.10,310.74 L347.30,311.34 L348.50,311.05 L349.70,310.05 L350.90,310.04 L352.10,309.57 L353.30,309.09 L354.50,309.46 L355.70,309.25 L356.90,308.47 L358.10,308.49 L359.30,308.53 L360.50,308.13 L361.70,308.44" stroke="#FA561C" stroke-width="1.9" fill="none" stroke-linejoin="round" stroke-linecap="round"/>
<path d="M234.50,314.60 L235.70,314.81 L236.90,314.53 L238.10,314.77 L239.30,315.15 L240.50,315.24 L241.70,315.40 L242.90,315.11 L244.10,315.48 L245.30,315.91 L246.50,315.54 L247.70,315.73 L248.90,315.23 L250.10,314.92 L251.30,315.53 L252.50,315.68 L253.70,316.15 L254.90,315.80 L256.10,316.06 L257.30,316.17 L258.50,316.80 L259.70,316.54 L260.90,316.54 L262.10,316.87 L263.30,317.18 L264.50,317.70 L265.70,317.59 L266.90,318.68 L268.10,318.85 L269.30,319.07 L270.50,319.36 L271.70,319.25 L272.90,318.98 L274.10,319.26 L275.30,319.18 L276.50,319.63 L277.70,318.99 L278.90,319.27 L280.10,319.25 L281.30,318.52 L282.50,318.82 L283.70,318.89 L284.90,319.22 L286.10,318.57 L287.30,318.95 L288.50,318.80 L289.70,318.39 L290.90,318.89 L292.10,318.79 L293.30,318.39 L294.50,318.68 L295.70,318.63 L296.90,318.32 L298.10,318.09 L299.30,318.57 L300.50,318.62 L301.70,318.73 L302.90,318.81 L304.10,319.00 L305.30,318.79 L306.50,318.62 L307.70,318.50 L308.90,319.17 L310.10,318.46 L311.30,318.61 L312.50,318.93 L313.70,318.52 L314.90,319.72 L316.10,319.24 L317.30,318.87 L318.50,318.71 L319.70,318.84 L320.90,319.06 L322.10,318.77 L323.30,319.39 L324.50,319.62 L325.70,318.86 L326.90,319.25 L328.10,319.65 L329.30,318.98 L330.50,319.77 L331.70,319.48 L332.90,318.76 L334.10,319.60 L335.30,319.33 L336.50,320.05 L337.70,319.87 L338.90,319.58 L340.10,319.91 L341.30,320.52 L342.50,319.93 L343.70,320.10 L344.90,320.63 L346.10,320.50 L347.30,320.23 L348.50,320.25 L349.70,320.15 L350.90,319.96 L352.10,320.72 L353.30,320.48 L354.50,319.85 L355.70,320.02 L356.90,319.67 L358.10,319.77 L359.30,320.73 L360.50,320.25 L361.70,320.44" stroke="#86269C" stroke-width="1.9" fill="none" stroke-linejoin="round" stroke-linecap="round"/>
<path d="M234.50,314.60 L235.70,314.68 L236.90,314.88 L238.10,314.51 L239.30,314.71 L240.50,314.70 L241.70,315.02 L242.90,315.11 L244.10,314.74 L245.30,315.27 L246.50,315.46 L247.70,315.87 L248.90,315.36 L250.10,315.79 L251.30,315.44 L252.50,315.18 L253.70,315.81 L254.90,315.30 L256.10,315.95 L257.30,315.99 L258.50,316.22 L259.70,315.71 L260.90,316.10 L262.10,316.05 L263.30,316.48 L264.50,316.76 L265.70,316.26 L266.90,315.94 L268.10,316.20 L269.30,316.47 L270.50,316.13 L271.70,317.28 L272.90,317.42 L274.10,316.61 L275.30,317.10 L276.50,317.02 L277.70,317.33 L278.90,317.55 L280.10,317.09 L281.30,317.66 L282.50,316.99 L283.70,317.37 L284.90,318.11 L286.10,317.38 L287.30,317.42 L288.50,317.62 L289.70,317.79 L290.90,318.17 L292.10,318.28 L293.30,318.56 L294.50,318.57 L295.70,318.78 L296.90,318.94 L298.10,319.16 L299.30,319.21 L300.50,319.85 L301.70,320.85 L302.90,320.06 L304.10,320.72 L305.30,320.67 L306.50,320.86 L307.70,320.81 L308.90,322.07 L310.10,322.00 L311.30,321.79 L312.50,322.52 L313.70,323.08 L314.90,322.52 L316.10,322.42 L317.30,322.56 L318.50,322.92 L319.70,323.66 L320.90,322.73 L322.10,323.10 L323.30,322.09 L324.50,321.90 L325.70,321.79 L326.90,321.63 L328.10,321.81 L329.30,322.11 L330.50,321.89 L331.70,321.26 L332.90,321.32 L334.10,321.36 L335.30,321.20 L336.50,321.11 L337.70,321.82 L338.90,321.05 L340.10,321.53 L341.30,321.11 L342.50,321.30 L343.70,320.95 L344.90,321.58 L346.10,321.36 L347.30,321.32 L348.50,320.85 L349.70,321.18 L350.90,320.51 L352.10,320.44 L353.30,320.86 L354.50,320.77 L355.70,320.43 L356.90,320.61 L358.10,320.97 L359.30,320.12 L360.50,320.39 L361.70,320.52" stroke="#1CB6F0" stroke-width="1.9" fill="none" stroke-linejoin="round" stroke-linecap="round"/>
<path d="M234.50,314.60 L235.70,314.56 L236.90,314.53 L238.10,314.37 L239.30,314.22 L240.50,314.04 L241.70,314.76 L242.90,314.97 L244.10,314.73 L245.30,314.68 L246.50,314.68 L247.70,314.53 L248.90,314.91 L250.10,314.30 L251.30,314.95 L252.50,314.52 L253.70,314.55 L254.90,314.15 L256.10,314.61 L257.30,315.45 L258.50,314.57 L259.70,314.46 L260.90,314.74 L262.10,314.96 L263.30,314.99 L264.50,314.40 L265.70,314.24 L266.90,314.30 L268.10,314.66 L269.30,313.99 L270.50,315.26 L271.70,314.50 L272.90,314.67 L274.10,315.33 L275.30,314.43 L276.50,314.80 L277.70,314.58 L278.90,315.04 L280.10,314.62 L281.30,314.97 L282.50,314.61 L283.70,315.26 L284.90,314.74 L286.10,314.50 L287.30,315.05 L288.50,314.24 L289.70,315.55 L290.90,315.17 L292.10,315.15 L293.30,315.09 L294.50,315.50 L295.70,315.11 L296.90,315.04 L298.10,314.93 L299.30,315.22 L300.50,315.74 L301.70,314.82 L302.90,315.51 L304.10,315.30 L305.30,315.40 L306.50,315.79 L307.70,315.52 L308.90,314.94 L310.10,315.28 L311.30,314.80 L312.50,315.39 L313.70,314.99 L314.90,315.87 L316.10,315.51 L317.30,314.47 L318.50,315.85 L319.70,315.18 L320.90,315.13 L322.10,315.79 L323.30,316.10 L324.50,316.13 L325.70,315.17 L326.90,314.99 L328.10,315.84 L329.30,315.48 L330.50,314.95 L331.70,315.93 L332.90,315.30 L334.10,315.38 L335.30,314.89 L336.50,315.29 L337.70,315.22 L338.90,315.23 L340.10,314.95 L341.30,315.03 L342.50,315.36 L343.70,315.14 L344.90,315.30 L346.10,315.34 L347.30,315.35 L348.50,315.51 L349.70,315.34 L350.90,315.79 L352.10,315.49 L353.30,314.93 L354.50,315.13 L355.70,315.30 L356.90,315.07 L358.10,315.60 L359.30,314.51 L360.50,315.32 L361.70,315.36" stroke="#B8142E" stroke-width="1.9" fill="none" stroke-linejoin="round" stroke-linecap="round"/>
<path d="M234.50,314.60 L235.70,314.64 L236.90,314.67 L238.10,314.64 L239.30,315.17 L240.50,315.10 L241.70,315.02 L242.90,315.11 L244.10,314.54 L245.30,315.29 L246.50,314.79 L247.70,314.98 L248.90,315.52 L250.10,314.68 L251.30,314.62 L252.50,314.85 L253.70,315.89 L254.90,315.30 L256.10,315.62 L257.30,315.22 L258.50,314.82 L259.70,315.60 L260.90,315.85 L262.10,315.50 L263.30,315.88 L264.50,315.40 L265.70,315.97 L266.90,316.08 L268.10,315.56 L269.30,315.73 L270.50,315.87 L271.70,315.39 L272.90,316.16 L274.10,316.00 L275.30,316.10 L276.50,316.14 L277.70,315.64 L278.90,316.03 L280.10,316.02 L281.30,316.79 L282.50,316.46 L283.70,316.24 L284.90,316.75 L286.10,316.32 L287.30,316.62 L288.50,316.59 L289.70,316.25 L290.90,316.21 L292.10,316.69 L293.30,316.90 L294.50,317.19 L295.70,316.60 L296.90,316.85 L298.10,317.06 L299.30,317.00 L300.50,316.88 L301.70,317.52 L302.90,317.34 L304.10,317.71 L305.30,317.59 L306.50,317.62 L307.70,317.45 L308.90,316.73 L310.10,317.60 L311.30,317.69 L312.50,317.44 L313.70,317.40 L314.90,317.19 L316.10,317.20 L317.30,317.90 L318.50,317.23 L319.70,316.77 L320.90,317.44 L322.10,317.27 L323.30,317.18 L324.50,317.68 L325.70,316.63 L326.90,317.61 L328.10,317.37 L329.30,317.25 L330.50,317.27 L331.70,317.44 L332.90,318.22 L334.10,317.55 L335.30,317.55 L336.50,317.86 L337.70,317.59 L338.90,317.61 L340.10,317.20 L341.30,317.16 L342.50,317.46 L343.70,317.31 L344.90,317.42 L346.10,317.09 L347.30,317.95 L348.50,317.56 L349.70,317.17 L350.90,317.33 L352.10,317.58 L353.30,317.46 L354.50,317.22 L355.70,317.00 L356.90,317.55 L358.10,317.64 L359.30,317.61 L360.50,317.86 L361.70,317.07" stroke="#0A78CC" stroke-width="1.9" fill="none" stroke-linejoin="round" stroke-linecap="round"/>
<path d="M234.50,314.60 L235.70,314.68 L236.90,315.08 L238.10,314.55 L239.30,314.36 L240.50,315.23 L241.70,315.26 L242.90,314.77 L244.10,314.99 L245.30,314.95 L246.50,315.32 L247.70,315.03 L248.90,315.48 L250.10,315.54 L251.30,315.29 L252.50,315.27 L253.70,315.85 L254.90,315.69 L256.10,316.18 L257.30,315.50 L258.50,315.76 L259.70,315.62 L260.90,315.95 L262.10,316.14 L263.30,315.95 L264.50,316.34 L265.70,316.44 L266.90,316.43 L268.10,316.10 L269.30,316.11 L270.50,316.58 L271.70,316.65 L272.90,316.87 L274.10,316.99 L275.30,316.82 L276.50,317.18 L277.70,316.56 L278.90,316.75 L280.10,317.05 L281.30,316.68 L282.50,318.14 L283.70,317.75 L284.90,317.73 L286.10,317.59 L287.30,318.03 L288.50,317.56 L289.70,317.97 L290.90,317.94 L292.10,318.13 L293.30,317.44 L294.50,317.55 L295.70,317.57 L296.90,317.49 L298.10,317.65 L299.30,317.80 L300.50,318.11 L301.70,318.17 L302.90,318.51 L304.10,318.24 L305.30,318.43 L306.50,319.00 L307.70,317.80 L308.90,318.53 L310.10,317.79 L311.30,318.41 L312.50,318.54 L313.70,318.40 L314.90,318.35 L316.10,317.95 L317.30,318.47 L318.50,318.00 L319.70,318.43 L320.90,318.29 L322.10,317.42 L323.30,318.90 L324.50,318.63 L325.70,318.20 L326.90,318.60 L328.10,318.69 L329.30,318.16 L330.50,318.62 L331.70,318.32 L332.90,318.73 L334.10,318.54 L335.30,318.48 L336.50,318.71 L337.70,318.58 L338.90,318.04 L340.10,318.33 L341.30,318.23 L342.50,318.37 L343.70,318.47 L344.90,318.21 L346.10,317.86 L347.30,318.31 L348.50,318.09 L349.70,318.50 L350.90,318.27 L352.10,318.04 L353.30,317.93 L354.50,317.74 L355.70,317.02 L356.90,318.35 L358.10,318.02 L359.30,318.18 L360.50,318.29 L361.70,317.64" stroke="#FAAA0A" stroke-width="1.9" fill="none" stroke-linejoin="round" stroke-linecap="round"/>
<path d="M234.50,314.60 L235.70,314.49 L236.90,314.65 L238.10,314.39 L239.30,314.84 L240.50,313.90 L241.70,314.54 L242.90,314.33 L244.10,314.55 L245.30,313.97 L246.50,314.32 L247.70,314.72 L248.90,313.76 L250.10,313.97 L251.30,314.44 L252.50,313.84 L253.70,314.53 L254.90,313.79 L256.10,313.80 L257.30,314.24 L258.50,313.92 L259.70,314.20 L260.90,314.03 L262.10,313.45 L263.30,314.21 L264.50,313.88 L265.70,313.89 L266.90,313.72 L268.10,312.96 L269.30,313.26 L270.50,313.75 L271.70,313.02 L272.90,312.76 L274.10,313.29 L275.30,313.45 L276.50,313.66 L277.70,313.43 L278.90,313.18 L280.10,313.34 L281.30,313.15 L282.50,313.01 L283.70,313.45 L284.90,312.84 L286.10,313.06 L287.30,312.40 L288.50,312.61 L289.70,312.77 L290.90,313.04 L292.10,312.85 L293.30,312.62 L294.50,312.78 L295.70,312.32 L296.90,313.15 L298.10,312.21 L299.30,312.57 L300.50,312.83 L301.70,312.04 L302.90,312.24 L304.10,312.57 L305.30,313.21 L306.50,312.13 L307.70,312.71 L308.90,312.00 L310.10,312.76 L311.30,312.34 L312.50,311.85 L313.70,312.08 L314.90,312.20 L316.10,311.92 L317.30,311.78 L318.50,312.68 L319.70,312.15 L320.90,311.64 L322.10,311.88 L323.30,312.38 L324.50,311.86 L325.70,312.42 L326.90,312.28 L328.10,311.91 L329.30,311.82 L330.50,311.72 L331.70,311.96 L332.90,312.18 L334.10,311.72 L335.30,312.73 L336.50,312.06 L337.70,312.53 L338.90,312.40 L340.10,312.92 L341.30,311.86 L342.50,312.20 L343.70,312.04 L344.90,311.92 L346.10,312.45 L347.30,312.44 L348.50,311.91 L349.70,312.26 L350.90,311.59 L352.10,312.35 L353.30,311.77 L354.50,311.79 L355.70,312.60 L356.90,311.86 L358.10,312.11 L359.30,312.40 L360.50,312.04 L361.70,311.95" stroke="#86269C" stroke-width="1.9" fill="none" stroke-linejoin="round" stroke-linecap="round"/>
<path d="M234.50,314.60 L235.70,314.64 L236.90,314.60 L238.10,314.61 L239.30,314.78 L240.50,314.82 L241.70,314.77 L242.90,314.17 L244.10,314.47 L245.30,314.57 L246.50,314.95 L247.70,314.72 L248.90,314.57 L250.10,314.85 L251.30,314.84 L252.50,314.33 L253.70,314.93 L254.90,314.60 L256.10,314.83 L257.30,314.92 L258.50,314.43 L259.70,315.20 L260.90,314.43 L262.10,315.09 L263.30,315.02 L264.50,314.73 L265.70,315.22 L266.90,314.58 L268.10,314.32 L269.30,314.81 L270.50,314.47 L271.70,314.77 L272.90,314.88 L274.10,315.31 L275.30,314.69 L276.50,314.80 L277.70,314.98 L278.90,315.01 L280.10,314.68 L281.30,315.02 L282.50,314.34 L283.70,314.48 L284.90,314.41 L286.10,314.52 L287.30,314.82 L288.50,314.60 L289.70,314.91 L290.90,314.09 L292.10,314.35 L293.30,314.80 L294.50,314.48 L295.70,314.39 L296.90,313.83 L298.10,314.72 L299.30,314.12 L300.50,314.65 L301.70,314.14 L302.90,314.32 L304.10,315.04 L305.30,314.16 L306.50,314.21 L307.70,314.46 L308.90,313.91 L310.10,314.56 L311.30,314.58 L312.50,314.48 L313.70,314.31 L314.90,314.58 L316.10,314.40 L317.30,314.53 L318.50,314.38 L319.70,314.88 L320.90,314.55 L322.10,315.04 L323.30,314.43 L324.50,314.64 L325.70,314.51 L326.90,314.92 L328.10,315.17 L329.30,315.05 L330.50,315.35 L331.70,314.99 L332.90,314.28 L334.10,314.89 L335.30,315.19 L336.50,315.08 L337.70,314.88 L338.90,314.91 L340.10,314.91 L341.30,314.26 L342.50,314.59 L343.70,315.07 L344.90,315.30 L346.10,314.63 L347.30,314.71 L348.50,315.05 L349.70,315.06 L350.90,314.86 L352.10,314.66 L353.30,315.20 L354.50,315.26 L355.70,314.47 L356.90,314.45 L358.10,315.15 L359.30,315.03 L360.50,314.66 L361.70,314.89" stroke="#66B21E" stroke-width="1.9" fill="none" stroke-linejoin="round" stroke-linecap="round"/>
<path d="M234.50,314.60 L235.70,314.54 L236.90,314.56 L238.10,314.07 L239.30,313.97 L240.50,313.96 L241.70,314.59 L242.90,314.57 L244.10,314.23 L245.30,314.22 L246.50,313.79 L247.70,313.53 L248.90,314.05 L250.10,314.08 L251.30,313.73 L252.50,313.00 L253.70,313.72 L254.90,313.61 L256.10,313.24 L257.30,313.72 L258.50,313.89 L259.70,313.61 L260.90,313.29 L262.10,312.98 L263.30,313.30 L264.50,312.60 L265.70,313.27 L266.90,313.17 L268.10,312.86 L269.30,313.11 L270.50,312.52 L271.70,312.90 L272.90,312.71 L274.10,312.44 L275.30,312.65 L276.50,312.09 L277.70,312.14 L278.90,311.64 L280.10,312.13 L281.30,312.26 L282.50,312.22 L283.70,312.06 L284.90,312.09 L286.10,312.11 L287.30,311.21 L288.50,311.54 L289.70,311.32 L290.90,311.42 L292.10,311.56 L293.30,311.81 L294.50,311.24 L295.70,311.10 L296.90,310.58 L298.10,311.67 L299.30,311.00 L300.50,311.62 L301.70,311.26 L302.90,310.85 L304.10,310.47 L305.30,310.76 L306.50,310.88 L307.70,310.91 L308.90,311.11 L310.10,310.40 L311.30,310.65 L312.50,310.66 L313.70,311.10 L314.90,310.89 L316.10,310.70 L317.30,310.59 L318.50,310.21 L319.70,310.62 L320.90,309.76 L322.10,310.06 L323.30,310.23 L324.50,310.63 L325.70,310.63 L326.90,310.62 L328.10,310.70 L329.30,310.22 L330.50,310.33 L331.70,310.08 L332.90,310.51 L334.10,309.99 L335.30,310.50 L336.50,311.27 L337.70,310.99 L338.90,310.24 L340.10,310.08 L341.30,310.46 L342.50,310.17 L343.70,310.18 L344.90,311.02 L346.10,310.00 L347.30,310.39 L348.50,310.22 L349.70,310.80 L350.90,310.41 L352.10,310.04 L353.30,310.66 L354.50,310.34 L355.70,309.92 L356.90,309.98 L358.10,309.58 L359.30,310.04 L360.50,310.20 L361.70,310.06" stroke="#1CB6F0" stroke-width="1.9" fill="none" stroke-linejoin="round" stroke-linecap="round"/>
<path d="M234.50,314.60 L235.70,314.63 L236.90,314.64 L238.10,314.51 L239.30,314.85 L240.50,314.73 L241.70,314.43 L242.90,314.50 L244.10,313.84 L245.30,314.62 L246.50,314.48 L247.70,313.55 L248.90,314.74 L250.10,314.46 L251.30,314.42 L252.50,314.14 L253.70,313.85 L254.90,314.58 L256.10,314.26 L257.30,314.25 L258.50,314.00 L259.70,314.34 L260.90,314.08 L262.10,314.42 L263.30,313.76 L264.50,314.24 L265.70,313.36 L266.90,313.08 L268.10,313.92 L269.30,313.75 L270.50,313.87 L271.70,314.04 L272.90,313.20 L274.10,313.61 L275.30,313.77 L276.50,314.17 L277.70,313.66 L278.90,313.83 L280.10,313.24 L281.30,314.25 L282.50,313.62 L283.70,313.99 L284.90,313.64 L286.10,313.75 L287.30,313.48 L288.50,313.75 L289.70,313.85 L290.90,313.75 L292.10,313.50 L293.30,313.62 L294.50,313.99 L295.70,313.03 L296.90,313.74 L298.10,313.32 L299.30,313.37 L300.50,313.34 L301.70,313.53 L302.90,314.31 L304.10,313.61 L305.30,313.98 L306.50,313.37 L307.70,313.38 L308.90,314.11 L310.10,313.99 L311.30,313.92 L312.50,313.68 L313.70,314.17 L314.90,313.89 L316.10,313.71 L317.30,313.57 L318.50,313.93 L319.70,313.79 L320.90,313.93 L322.10,314.20 L323.30,313.38 L324.50,313.94 L325.70,313.66 L326.90,313.06 L328.10,313.69 L329.30,313.69 L330.50,313.84 L331.70,313.81 L332.90,313.52 L334.10,313.63 L335.30,313.89 L336.50,313.38 L337.70,313.67 L338.90,313.68 L340.10,313.36 L341.30,313.65 L342.50,312.93 L343.70,313.14 L344.90,313.35 L346.10,312.82 L347.30,312.85 L348.50,313.56 L349.70,313.53 L350.90,313.85 L352.10,313.32 L353.30,313.20 L354.50,312.97 L355.70,313.25 L356.90,313.49 L358.10,313.96 L359.30,313.72 L360.50,312.67 L361.70,313.88" stroke="#FA561C" stroke-width="1.9" fill="none" stroke-linejoin="round" stroke-linecap="round"/>
<path d="M234.50,314.60 L235.70,314.67 L236.90,314.58 L238.10,314.72 L239.30,314.77 L240.50,314.01 L241.70,314.88 L242.90,314.39 L244.10,314.31 L245.30,315.15 L246.50,314.22 L247.70,314.24 L248.90,314.52 L250.10,315.33 L251.30,315.18 L252.50,314.81 L253.70,315.53 L254.90,314.65 L256.10,314.30 L257.30,315.19 L258.50,315.05 L259.70,315.12 L260.90,314.63 L262.10,315.24 L263.30,315.17 L264.50,314.65 L265.70,315.29 L266.90,315.23 L268.10,315.65 L269.30,315.04 L270.50,315.29 L271.70,315.55 L272.90,314.82 L274.10,315.09 L275.30,314.95 L276.50,315.13 L277.70,315.82 L278.90,315.62 L280.10,315.54 L281.30,315.54 L282.50,315.64 L283.70,315.97 L284.90,315.72 L286.10,316.04 L287.30,315.64 L288.50,315.59 L289.70,315.72 L290.90,315.52 L292.10,315.83 L293.30,314.78 L294.50,315.55 L295.70,315.52 L296.90,315.41 L298.10,316.01 L299.30,316.16 L300.50,316.22 L301.70,315.57 L302.90,316.05 L304.10,315.34 L305.30,315.79 L306.50,315.89 L307.70,315.93 L308.90,315.92 L310.10,316.33 L311.30,315.42 L312.50,316.14 L313.70,315.86 L314.90,316.05 L316.10,316.64 L317.30,316.60 L318.50,316.24 L319.70,317.02 L320.90,316.24 L322.10,316.36 L323.30,316.62 L324.50,316.08 L325.70,316.15 L326.90,316.59 L328.10,315.77 L329.30,316.10 L330.50,315.64 L331.70,317.11 L332.90,316.18 L334.10,316.56 L335.30,315.90 L336.50,317.08 L337.70,315.93 L338.90,316.26 L340.10,317.24 L341.30,316.67 L342.50,316.31 L343.70,316.90 L344.90,316.51 L346.10,316.48 L347.30,316.27 L348.50,316.15 L349.70,316.19 L350.90,316.23 L352.10,316.29 L353.30,316.59 L354.50,316.57 L355.70,316.50 L356.90,316.57 L358.10,316.47 L359.30,316.84 L360.50,316.73 L361.70,317.15" stroke="#B8142E" stroke-width="1.9" fill="none" stroke-linejoin="round" stroke-linecap="round"/>
</g>
<rect x="419.48" y="343.98" width="17.04" height="36.52" fill="#0000ff" stroke="#000" stroke-width="1"/>
<rect x="440.78" y="377.21" width="17.04" height="3.29" fill="#ff0000" stroke="#000" stroke-width="1"/>
<rect x="462.08" y="291.11" width="17.04" height="89.39" fill="#000000" stroke="#000" stroke-width="1"/>
<rect x="483.38" y="368.82" width="17.04" height="11.68" fill="#ffff00" stroke="#000" stroke-width="1"/>
<rect x="504.68" y="375.19" width="17.04" height="5.31" fill="#00ffff" stroke="#000" stroke-width="1"/>
<text font-size="15.2" text-anchor="end" transform="translate(434.80,394.60) rotate(-45)" dy="5">G</text>
<text font-size="15.2" text-anchor="end" transform="translate(456.10,394.60) rotate(-45)" dy="5">E</text>
<text font-size="15.2" text-anchor="end" transform="translate(477.40,394.60) rotate(-45)" dy="5">R</text>
<text font-size="15.2" text-anchor="end" transform="translate(498.70,394.60) rotate(-45)" dy="5">C2</text>
<text font-size="15.2" text-anchor="end" transform="translate(520.00,394.60) rotate(-45)" dy="5">C3</text>
<path d="M62.5,153.31h1.5M189.5,153.31h-1.5M62.5,123.34h1.5M189.5,123.34h-1.5M62.5,93.38h1.5M189.5,93.38h-1.5M62.5,63.41h1.5M189.5,63.41h-1.5M62.5,33.44h1.5M189.5,33.44h-1.5M62.50,159.3v-1.5M62.50,27.45v1.5M104.83,159.3v-1.5M104.83,27.45v1.5M147.17,159.3v-1.5M147.17,27.45v1.5M189.50,159.3v-1.5M189.50,27.45v1.5" stroke="#262626" stroke-width="0.9" fill="none"/>
<rect x="62.5" y="27.45" width="127.00" height="131.85" fill="none" stroke="#303030" stroke-width="1.12"/>
<text  transform="translate(55.70,160.31) scale(1,1.03)" font-size="15.3" text-anchor="end">-0.2</text>
<text  transform="translate(55.70,130.34) scale(1,1.03)" font-size="15.3" text-anchor="end">-0.1</text>
<text  transform="translate(55.70,100.38) scale(1,1.03)" font-size="15.3" text-anchor="end">0</text>
<text  transform="translate(55.70,70.41) scale(1,1.03)" font-size="15.3" text-anchor="end">0.1</text>
<text  transform="translate(55.70,40.44) scale(1,1.03)" font-size="15.3" text-anchor="end">0.2</text>
<text  transform="translate(62.50,182.00) scale(1,1.03)" font-size="15.3" text-anchor="middle">0</text>
<text  transform="translate(104.83,182.00) scale(1,1.03)" font-size="15.3" text-anchor="middle">8</text>
<text  transform="translate(147.17,182.00) scale(1,1.03)" font-size="15.3" text-anchor="middle">16</text>
<text  transform="translate(189.50,182.00) scale(1,1.03)" font-size="15.3" text-anchor="middle">24</text>
<text class="t" transform="translate(126.00,20.75) scale(1,1.04)" font-size="16.6" text-anchor="middle">GPS</text>
<text  transform="translate(126.00,202.50) scale(1,1.05)" font-size="15.45" text-anchor="middle">Time (hour)</text>
<text font-size="15.7" text-anchor="middle" transform="translate(21.2,93.38) rotate(-90)">IFCB (m)</text>
<path d="M234.5,153.31h1.5M362.5,153.31h-1.5M234.5,123.34h1.5M362.5,123.34h-1.5M234.5,93.38h1.5M362.5,93.38h-1.5M234.5,63.41h1.5M362.5,63.41h-1.5M234.5,33.44h1.5M362.5,33.44h-1.5M234.50,159.3v-1.5M234.50,27.45v1.5M277.17,159.3v-1.5M277.17,27.45v1.5M319.83,159.3v-1.5M319.83,27.45v1.5M362.50,159.3v-1.5M362.50,27.45v1.5" stroke="#262626" stroke-width="0.9" fill="none"/>
<rect x="234.5" y="27.45" width="128.00" height="131.85" fill="none" stroke="#303030" stroke-width="1.12"/>
<text  transform="translate(227.70,160.31) scale(1,1.03)" font-size="15.3" text-anchor="end">-0.2</text>
<text  transform="translate(227.70,130.34) scale(1,1.03)" font-size="15.3" text-anchor="end">-0.1</text>
<text  transform="translate(227.70,100.38) scale(1,1.03)" font-size="15.3" text-anchor="end">0</text>
<text  transform="translate(227.70,70.41) scale(1,1.03)" font-size="15.3" text-anchor="end">0.1</text>
<text  transform="translate(227.70,40.44) scale(1,1.03)" font-size="15.3" text-anchor="end">0.2</text>
<text  transform="translate(234.50,182.00) scale(1,1.03)" font-size="15.3" text-anchor="middle">0</text>
<text  transform="translate(277.17,182.00) scale(1,1.03)" font-size="15.3" text-anchor="middle">8</text>
<text  transform="translate(319.83,182.00) scale(1,1.03)" font-size="15.3" text-anchor="middle">16</text>
<text  transform="translate(362.50,182.00) scale(1,1.03)" font-size="15.3" text-anchor="middle">24</text>
<text class="t" transform="translate(298.50,20.75) scale(1,1.04)" font-size="16.6" text-anchor="middle">Galileo</text>
<text  transform="translate(298.50,202.50) scale(1,1.05)" font-size="15.45" text-anchor="middle">Time (hour)</text>
<path d="M406.7,154.23h1.5M534.5,154.23h-1.5M406.7,123.80h1.5M534.5,123.80h-1.5M406.7,93.38h1.5M534.5,93.38h-1.5M406.7,62.95h1.5M534.5,62.95h-1.5M406.7,32.52h1.5M534.5,32.52h-1.5M406.70,159.3v-1.5M406.70,27.45v1.5M449.30,159.3v-1.5M449.30,27.45v1.5M491.90,159.3v-1.5M491.90,27.45v1.5M534.50,159.3v-1.5M534.50,27.45v1.5" stroke="#262626" stroke-width="0.9" fill="none"/>
<rect x="406.7" y="27.45" width="127.80" height="131.85" fill="none" stroke="#303030" stroke-width="1.12"/>
<text  transform="translate(399.90,161.23) scale(1,1.03)" font-size="15.3" text-anchor="end">-0.6</text>
<text  transform="translate(399.90,130.80) scale(1,1.03)" font-size="15.3" text-anchor="end">-0.3</text>
<text  transform="translate(399.90,100.38) scale(1,1.03)" font-size="15.3" text-anchor="end">0</text>
<text  transform="translate(399.90,69.95) scale(1,1.03)" font-size="15.3" text-anchor="end">0.3</text>
<text  transform="translate(399.90,39.52) scale(1,1.03)" font-size="15.3" text-anchor="end">0.6</text>
<text  transform="translate(406.70,182.00) scale(1,1.03)" font-size="15.3" text-anchor="middle">0</text>
<text  transform="translate(449.30,182.00) scale(1,1.03)" font-size="15.3" text-anchor="middle">8</text>
<text  transform="translate(491.90,182.00) scale(1,1.03)" font-size="15.3" text-anchor="middle">16</text>
<text  transform="translate(534.50,182.00) scale(1,1.03)" font-size="15.3" text-anchor="middle">24</text>
<text class="t" transform="translate(470.60,20.75) scale(1,1.04)" font-size="16.6" text-anchor="middle">GLONASS</text>
<text  transform="translate(470.60,202.50) scale(1,1.05)" font-size="15.45" text-anchor="middle">Time (hour)</text>
<path d="M62.5,374.52h1.5M189.5,374.52h-1.5M62.5,344.60h1.5M189.5,344.60h-1.5M62.5,314.68h1.5M189.5,314.68h-1.5M62.5,284.75h1.5M189.5,284.75h-1.5M62.5,254.83h1.5M189.5,254.83h-1.5M62.50,380.5v-1.5M62.50,248.85v1.5M104.83,380.5v-1.5M104.83,248.85v1.5M147.17,380.5v-1.5M147.17,248.85v1.5M189.50,380.5v-1.5M189.50,248.85v1.5" stroke="#262626" stroke-width="0.9" fill="none"/>
<rect x="62.5" y="248.85" width="127.00" height="131.65" fill="none" stroke="#303030" stroke-width="1.12"/>
<text  transform="translate(55.70,381.52) scale(1,1.03)" font-size="15.3" text-anchor="end">-0.2</text>
<text  transform="translate(55.70,351.60) scale(1,1.03)" font-size="15.3" text-anchor="end">-0.1</text>
<text  transform="translate(55.70,321.68) scale(1,1.03)" font-size="15.3" text-anchor="end">0</text>
<text  transform="translate(55.70,291.75) scale(1,1.03)" font-size="15.3" text-anchor="end">0.1</text>
<text  transform="translate(55.70,261.83) scale(1,1.03)" font-size="15.3" text-anchor="end">0.2</text>
<text  transform="translate(62.50,404.10) scale(1,1.03)" font-size="15.3" text-anchor="middle">0</text>
<text  transform="translate(104.83,404.10) scale(1,1.03)" font-size="15.3" text-anchor="middle">8</text>
<text  transform="translate(147.17,404.10) scale(1,1.03)" font-size="15.3" text-anchor="middle">16</text>
<text  transform="translate(189.50,404.10) scale(1,1.03)" font-size="15.3" text-anchor="middle">24</text>
<text class="t" transform="translate(126.00,242.15) scale(1,1.04)" font-size="16.6" text-anchor="middle">BDS-2</text>
<text  transform="translate(126.00,423.70) scale(1,1.05)" font-size="15.45" text-anchor="middle">Time (hour)</text>
<text font-size="15.7" text-anchor="middle" transform="translate(21.2,314.68) rotate(-90)">IFCB (m)</text>
<path d="M234.5,374.52h1.5M362.5,374.52h-1.5M234.5,344.60h1.5M362.5,344.60h-1.5M234.5,314.68h1.5M362.5,314.68h-1.5M234.5,284.75h1.5M362.5,284.75h-1.5M234.5,254.83h1.5M362.5,254.83h-1.5M234.50,380.5v-1.5M234.50,248.85v1.5M277.17,380.5v-1.5M277.17,248.85v1.5M319.83,380.5v-1.5M319.83,248.85v1.5M362.50,380.5v-1.5M362.50,248.85v1.5" stroke="#262626" stroke-width="0.9" fill="none"/>
<rect x="234.5" y="248.85" width="128.00" height="131.65" fill="none" stroke="#303030" stroke-width="1.12"/>
<text  transform="translate(227.70,381.52) scale(1,1.03)" font-size="15.3" text-anchor="end">-0.2</text>
<text  transform="translate(227.70,351.60) scale(1,1.03)" font-size="15.3" text-anchor="end">-0.1</text>
<text  transform="translate(227.70,321.68) scale(1,1.03)" font-size="15.3" text-anchor="end">0</text>
<text  transform="translate(227.70,291.75) scale(1,1.03)" font-size="15.3" text-anchor="end">0.1</text>
<text  transform="translate(227.70,261.83) scale(1,1.03)" font-size="15.3" text-anchor="end">0.2</text>
<text  transform="translate(234.50,404.10) scale(1,1.03)" font-size="15.3" text-anchor="middle">0</text>
<text  transform="translate(277.17,404.10) scale(1,1.03)" font-size="15.3" text-anchor="middle">8</text>
<text  transform="translate(319.83,404.10) scale(1,1.03)" font-size="15.3" text-anchor="middle">16</text>
<text  transform="translate(362.50,404.10) scale(1,1.03)" font-size="15.3" text-anchor="middle">24</text>
<text class="t" transform="translate(298.50,242.15) scale(1,1.04)" font-size="16.6" text-anchor="middle">BDS-3</text>
<text  transform="translate(298.50,423.70) scale(1,1.05)" font-size="15.45" text-anchor="middle">Time (hour)</text>
<path d="M406.7,380.50h1.5M534.5,380.50h-1.5M406.7,338.03h1.5M534.5,338.03h-1.5M406.7,295.56h1.5M534.5,295.56h-1.5M406.7,253.10h1.5M534.5,253.10h-1.5M428.00,380.5v-1.5M428.00,248.85v1.5M449.30,380.5v-1.5M449.30,248.85v1.5M470.60,380.5v-1.5M470.60,248.85v1.5M491.90,380.5v-1.5M491.90,248.85v1.5M513.20,380.5v-1.5M513.20,248.85v1.5" stroke="#262626" stroke-width="0.9" fill="none"/>
<rect x="406.7" y="248.85" width="127.80" height="131.65" fill="none" stroke="#303030" stroke-width="1.12"/>
<text  transform="translate(399.90,387.50) scale(1,1.03)" font-size="15.3" text-anchor="end">0</text>
<text  transform="translate(399.90,345.03) scale(1,1.03)" font-size="15.3" text-anchor="end">0.2</text>
<text  transform="translate(399.90,302.56) scale(1,1.03)" font-size="15.3" text-anchor="end">0.4</text>
<text  transform="translate(399.90,260.10) scale(1,1.03)" font-size="15.3" text-anchor="end">0.6</text>
<text class="t" transform="translate(470.60,242.15) scale(1,1.04)" font-size="15.55" text-anchor="middle">Maximum value</text>
<text  transform="translate(470.60,430.70) scale(1,1.05)" font-size="15.45" text-anchor="middle">System</text>
</g>
</svg></div></body></html>
